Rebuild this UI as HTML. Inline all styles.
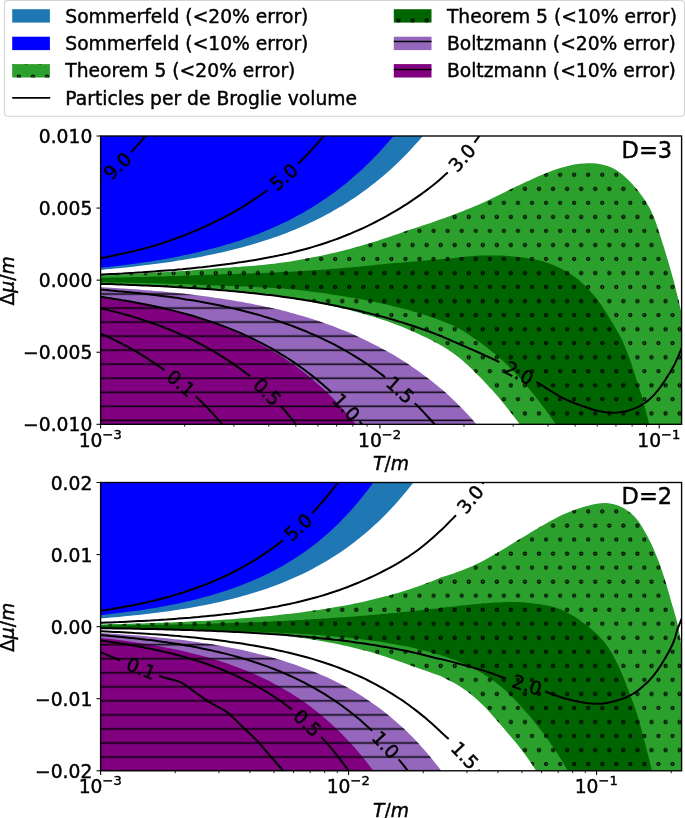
<!DOCTYPE html>
<html><head><meta charset="utf-8"><title>Fermi gas approximation regimes</title>
<style>html,body{margin:0;padding:0;background:#fff}svg{display:block}text{font-family:"DejaVu Sans", "Liberation Sans", sans-serif;fill:#000;stroke:#000;stroke-width:0.42px}</style></head><body>
<svg width="685" height="818" viewBox="0 0 685 818">
<rect width="685" height="818" fill="#fff"/>
<defs>
<pattern id="dots" x="1.388" y="16.970" width="14.056" height="28.060" patternUnits="userSpaceOnUse">
<circle cx="3.5" cy="3.5" r="1.42" fill="none" stroke="#000" stroke-width="1.3"/>
<circle cx="10.528" cy="17.530" r="1.42" fill="none" stroke="#000" stroke-width="1.3"/>
</pattern>
<pattern id="hl" x="0" y="6.410" width="200" height="14.030" patternUnits="userSpaceOnUse">
<rect x="0" y="6.28" width="200" height="1.45" fill="#000"/></pattern>
<clipPath id="clip_u"><rect x="100.60" y="136.00" width="581.00" height="288.30"/></clipPath>
<clipPath id="clip_l"><rect x="100.60" y="482.50" width="581.00" height="288.30"/></clipPath>
</defs>
<g clip-path="url(#clip_u)">
<path d="M98.6 270.0 L102.6 269.7 L106.6 269.3 L110.6 269.0 L114.6 268.6 L118.6 268.2 L122.6 267.8 L126.6 267.4 L130.6 267.0 L134.6 266.5 L138.6 266.1 L142.6 265.6 L146.6 265.1 L150.6 264.6 L154.6 264.1 L158.6 263.6 L162.6 263.0 L166.6 262.5 L170.6 261.9 L174.6 261.3 L178.6 260.6 L182.6 260.0 L186.6 259.3 L190.6 258.6 L194.6 257.9 L198.6 257.2 L202.6 256.4 L206.6 255.6 L210.6 254.8 L214.6 253.9 L218.6 253.1 L222.6 252.2 L226.6 251.2 L230.6 250.3 L234.6 249.3 L238.6 248.3 L242.6 247.2 L246.6 246.1 L250.6 245.0 L254.6 243.8 L258.6 242.6 L262.6 241.3 L266.6 240.0 L270.6 238.7 L274.6 237.3 L278.6 235.9 L282.6 234.4 L286.6 232.9 L290.6 231.3 L294.6 229.7 L298.6 228.0 L302.6 226.3 L306.6 224.5 L310.6 222.6 L314.6 220.7 L318.6 218.7 L322.6 216.7 L326.6 214.6 L330.6 212.4 L334.6 210.1 L338.6 207.8 L342.6 205.4 L346.6 202.9 L350.6 200.3 L354.6 197.7 L358.6 194.9 L362.6 192.1 L366.6 189.2 L370.6 186.1 L374.6 183.0 L378.6 179.8 L382.6 176.4 L386.6 173.0 L390.6 169.4 L394.6 165.7 L398.6 161.9 L402.6 158.0 L406.6 153.9 L410.6 149.7 L414.6 145.3 L418.6 140.9 L422.6 136.2 L426.6 131.4 L430.6 126.5 L434.6 121.4 L434.6 86.0 L98.6 86.0Z" fill="#1f77b4"/>
<path d="M98.6 268.0 L102.6 267.6 L106.6 267.2 L110.6 266.7 L114.6 266.3 L118.6 265.8 L122.6 265.3 L126.6 264.8 L130.6 264.3 L134.6 263.7 L138.6 263.2 L142.6 262.6 L146.6 262.0 L150.6 261.4 L154.6 260.7 L158.6 260.1 L162.6 259.4 L166.6 258.7 L170.6 257.9 L174.6 257.2 L178.6 256.4 L182.6 255.6 L186.6 254.7 L190.6 253.9 L194.6 253.0 L198.6 252.1 L202.6 251.1 L206.6 250.1 L210.6 249.1 L214.6 248.0 L218.6 246.9 L222.6 245.8 L226.6 244.6 L230.6 243.4 L234.6 242.1 L238.6 240.9 L242.6 239.5 L246.6 238.1 L250.6 236.7 L254.6 235.2 L258.6 233.7 L262.6 232.1 L266.6 230.4 L270.6 228.8 L274.6 227.0 L278.6 225.2 L282.6 223.3 L286.6 221.4 L290.6 219.4 L294.6 217.3 L298.6 215.1 L302.6 212.9 L306.6 210.6 L310.6 208.3 L314.6 205.8 L318.6 203.3 L322.6 200.6 L326.6 197.9 L330.6 195.1 L334.6 192.2 L338.6 189.2 L342.6 186.1 L346.6 182.9 L350.6 179.6 L354.6 176.1 L358.6 172.6 L362.6 168.9 L366.6 165.1 L370.6 161.2 L374.6 157.1 L378.6 152.9 L382.6 148.6 L386.6 144.1 L390.6 139.5 L394.6 134.7 L398.6 129.7 L402.6 124.6 L406.6 119.2 L406.6 86.0 L98.6 86.0Z" fill="#0000ff"/>
<path d="M98.6 275.5 L102.6 275.3 L106.6 275.2 L110.6 275.0 L114.6 274.8 L118.6 274.6 L122.6 274.5 L126.6 274.3 L130.6 274.1 L134.6 273.9 L138.6 273.7 L142.6 273.5 L146.6 273.3 L150.6 273.0 L154.6 272.8 L158.6 272.6 L162.6 272.3 L166.6 272.1 L170.6 271.8 L174.6 271.6 L178.6 271.3 L182.6 271.0 L186.6 270.7 L190.6 270.4 L194.6 270.1 L198.6 269.8 L202.6 269.5 L206.6 269.2 L210.6 268.9 L214.6 268.6 L218.6 268.3 L222.6 268.0 L226.6 267.7 L230.6 267.4 L234.6 267.1 L238.6 266.9 L242.6 266.6 L246.6 266.3 L250.6 266.0 L254.6 265.7 L258.6 265.3 L262.6 265.0 L266.6 264.6 L270.6 264.1 L274.6 263.7 L278.6 263.1 L282.6 262.6 L286.6 262.0 L290.6 261.4 L294.6 260.7 L298.6 260.0 L302.6 259.3 L306.6 258.6 L310.6 257.8 L314.6 257.1 L318.6 256.2 L322.6 255.4 L326.6 254.5 L330.6 253.6 L334.6 252.7 L338.6 251.8 L342.6 250.8 L346.6 249.8 L350.6 248.7 L354.6 247.6 L358.6 246.5 L362.6 245.3 L366.6 244.1 L370.6 242.9 L374.6 241.7 L378.6 240.4 L382.6 239.1 L386.6 237.8 L390.6 236.5 L394.6 235.1 L398.6 233.7 L402.6 232.2 L406.6 230.8 L410.6 229.5 L414.6 228.2 L418.6 226.9 L422.6 225.6 L426.6 224.3 L430.6 223.0 L434.6 221.6 L438.6 220.1 L442.6 218.7 L446.6 217.3 L450.6 215.8 L454.6 214.3 L458.6 212.7 L462.6 211.2 L466.6 209.6 L470.6 208.0 L474.6 206.3 L478.6 204.7 L480.0 204.1 L483.6 202.4 L487.2 200.7 L490.8 198.9 L494.4 197.2 L498.0 195.4 L501.6 193.7 L505.2 191.9 L508.8 190.1 L512.4 188.4 L516.0 186.6 L519.6 184.9 L523.2 183.2 L526.8 181.5 L530.5 179.9 L534.1 178.2 L537.8 176.6 L541.5 175.1 L545.2 173.5 L548.9 172.1 L552.7 170.6 L556.4 169.3 L560.2 168.1 L564.1 166.9 L567.9 165.9 L571.8 165.0 L575.8 164.3 L579.7 163.8 L583.7 163.4 L587.8 163.2 L591.8 163.2 L595.9 163.5 L599.9 164.0 L603.9 164.9 L607.7 166.0 L611.5 167.4 L615.0 169.2 L618.4 171.4 L621.6 173.8 L624.6 176.4 L627.6 179.2 L630.4 182.1 L633.1 185.0 L635.7 188.0 L638.3 191.1 L640.7 194.3 L643.1 197.5 L645.4 200.8 L647.5 204.2 L649.5 207.7 L651.3 211.2 L652.9 214.9 L654.4 218.6 L655.8 222.3 L657.1 226.1 L658.4 229.9 L659.6 233.8 L660.8 237.6 L662.0 241.4 L663.2 245.2 L664.4 249.0 L665.6 252.9 L666.7 256.7 L667.9 260.5 L669.0 264.3 L670.1 268.2 L671.2 272.0 L672.3 275.9 L673.4 279.7 L674.4 283.6 L675.4 287.5 L676.3 291.4 L677.3 295.3 L678.2 299.1 L679.2 303.0 L680.1 306.9 L681.0 310.8 L681.9 314.7 L682.8 318.6 L683.7 322.5 L684.6 326.4 L685.0 328.0 L701.6 328.0 L701.6 454.3 L526.0 454.3 L526.0 433.0 L525.0 431.6 L522.7 428.4 L520.3 425.1 L518.0 421.9 L515.6 418.7 L513.1 415.5 L510.7 412.4 L508.2 409.2 L505.7 406.1 L503.2 403.0 L500.6 399.9 L498.1 396.8 L495.4 393.8 L492.8 390.8 L490.1 387.9 L487.4 384.9 L484.6 382.0 L481.9 379.1 L479.1 376.3 L476.2 373.4 L473.4 370.6 L470.5 367.8 L467.6 365.1 L464.7 362.4 L461.7 359.7 L458.6 357.2 L455.4 354.8 L452.1 352.5 L448.8 350.3 L445.4 348.1 L442.0 346.0 L438.6 344.1 L434.6 341.9 L430.6 339.8 L426.6 337.8 L422.6 335.9 L418.6 334.0 L414.6 332.2 L410.6 330.4 L406.6 328.7 L402.6 327.1 L398.6 325.5 L394.6 324.0 L390.6 322.5 L386.6 321.1 L382.6 319.7 L378.6 318.4 L374.6 317.1 L370.6 315.9 L366.6 314.7 L362.6 313.5 L358.6 312.4 L354.6 311.4 L350.6 310.3 L346.6 309.3 L342.6 308.4 L338.6 307.4 L334.6 306.5 L330.6 305.7 L326.6 304.8 L322.6 304.0 L318.6 303.2 L314.6 302.5 L310.6 301.7 L306.6 301.0 L302.6 300.3 L298.6 299.7 L294.6 299.0 L290.6 298.4 L286.6 297.8 L282.6 297.2 L278.6 296.7 L274.6 296.1 L270.6 295.6 L266.6 295.1 L262.6 294.6 L258.6 294.1 L254.6 293.7 L250.6 293.2 L246.6 292.8 L242.6 292.4 L238.6 292.0 L234.6 291.6 L230.6 291.2 L226.6 290.9 L222.6 290.5 L218.6 290.2 L214.6 289.9 L210.6 289.5 L206.6 289.2 L202.6 288.9 L198.6 288.6 L194.6 288.4 L190.6 288.1 L186.6 287.8 L182.6 287.6 L178.6 287.3 L174.6 287.1 L170.6 286.9 L166.6 286.7 L162.6 286.5 L158.6 286.2 L154.6 286.1 L150.6 285.9 L146.6 285.7 L142.6 285.5 L138.6 285.3 L134.6 285.2 L130.6 285.0 L126.6 284.8 L122.6 284.7 L118.6 284.5 L114.6 284.4 L110.6 284.3 L106.6 284.1 L102.6 284.0 L98.6 283.9Z" fill="#2ca02c"/>
<path d="M98.6 275.5 L102.6 275.3 L106.6 275.2 L110.6 275.0 L114.6 274.8 L118.6 274.6 L122.6 274.5 L126.6 274.3 L130.6 274.1 L134.6 273.9 L138.6 273.7 L142.6 273.5 L146.6 273.3 L150.6 273.0 L154.6 272.8 L158.6 272.6 L162.6 272.3 L166.6 272.1 L170.6 271.8 L174.6 271.6 L178.6 271.3 L182.6 271.0 L186.6 270.7 L190.6 270.4 L194.6 270.1 L198.6 269.8 L202.6 269.5 L206.6 269.2 L210.6 268.9 L214.6 268.6 L218.6 268.3 L222.6 268.0 L226.6 267.7 L230.6 267.4 L234.6 267.1 L238.6 266.9 L242.6 266.6 L246.6 266.3 L250.6 266.0 L254.6 265.7 L258.6 265.3 L262.6 265.0 L266.6 264.6 L270.6 264.1 L274.6 263.7 L278.6 263.1 L282.6 262.6 L286.6 262.0 L290.6 261.4 L294.6 260.7 L298.6 260.0 L302.6 259.3 L306.6 258.6 L310.6 257.8 L314.6 257.1 L318.6 256.2 L322.6 255.4 L326.6 254.5 L330.6 253.6 L334.6 252.7 L338.6 251.8 L342.6 250.8 L346.6 249.8 L350.6 248.7 L354.6 247.6 L358.6 246.5 L362.6 245.3 L366.6 244.1 L370.6 242.9 L374.6 241.7 L378.6 240.4 L382.6 239.1 L386.6 237.8 L390.6 236.5 L394.6 235.1 L398.6 233.7 L402.6 232.2 L406.6 230.8 L410.6 229.5 L414.6 228.2 L418.6 226.9 L422.6 225.6 L426.6 224.3 L430.6 223.0 L434.6 221.6 L438.6 220.1 L442.6 218.7 L446.6 217.3 L450.6 215.8 L454.6 214.3 L458.6 212.7 L462.6 211.2 L466.6 209.6 L470.6 208.0 L474.6 206.3 L478.6 204.7 L480.0 204.1 L483.6 202.4 L487.2 200.7 L490.8 198.9 L494.4 197.2 L498.0 195.4 L501.6 193.7 L505.2 191.9 L508.8 190.1 L512.4 188.4 L516.0 186.6 L519.6 184.9 L523.2 183.2 L526.8 181.5 L530.5 179.9 L534.1 178.2 L537.8 176.6 L541.5 175.1 L545.2 173.5 L548.9 172.1 L552.7 170.6 L556.4 169.3 L560.2 168.1 L564.1 166.9 L567.9 165.9 L571.8 165.0 L575.8 164.3 L579.7 163.8 L583.7 163.4 L587.8 163.2 L591.8 163.2 L595.9 163.5 L599.9 164.0 L603.9 164.9 L607.7 166.0 L611.5 167.4 L615.0 169.2 L618.4 171.4 L621.6 173.8 L624.6 176.4 L627.6 179.2 L630.4 182.1 L633.1 185.0 L635.7 188.0 L638.3 191.1 L640.7 194.3 L643.1 197.5 L645.4 200.8 L647.5 204.2 L649.5 207.7 L651.3 211.2 L652.9 214.9 L654.4 218.6 L655.8 222.3 L657.1 226.1 L658.4 229.9 L659.6 233.8 L660.8 237.6 L662.0 241.4 L663.2 245.2 L664.4 249.0 L665.6 252.9 L666.7 256.7 L667.9 260.5 L669.0 264.3 L670.1 268.2 L671.2 272.0 L672.3 275.9 L673.4 279.7 L674.4 283.6 L675.4 287.5 L676.3 291.4 L677.3 295.3 L678.2 299.1 L679.2 303.0 L680.1 306.9 L681.0 310.8 L681.9 314.7 L682.8 318.6 L683.7 322.5 L684.6 326.4 L685.0 328.0 L701.6 328.0 L701.6 454.3 L526.0 454.3 L526.0 433.0 L525.0 431.6 L522.7 428.4 L520.3 425.1 L518.0 421.9 L515.6 418.7 L513.1 415.5 L510.7 412.4 L508.2 409.2 L505.7 406.1 L503.2 403.0 L500.6 399.9 L498.1 396.8 L495.4 393.8 L492.8 390.8 L490.1 387.9 L487.4 384.9 L484.6 382.0 L481.9 379.1 L479.1 376.3 L476.2 373.4 L473.4 370.6 L470.5 367.8 L467.6 365.1 L464.7 362.4 L461.7 359.7 L458.6 357.2 L455.4 354.8 L452.1 352.5 L448.8 350.3 L445.4 348.1 L442.0 346.0 L438.6 344.1 L434.6 341.9 L430.6 339.8 L426.6 337.8 L422.6 335.9 L418.6 334.0 L414.6 332.2 L410.6 330.4 L406.6 328.7 L402.6 327.1 L398.6 325.5 L394.6 324.0 L390.6 322.5 L386.6 321.1 L382.6 319.7 L378.6 318.4 L374.6 317.1 L370.6 315.9 L366.6 314.7 L362.6 313.5 L358.6 312.4 L354.6 311.4 L350.6 310.3 L346.6 309.3 L342.6 308.4 L338.6 307.4 L334.6 306.5 L330.6 305.7 L326.6 304.8 L322.6 304.0 L318.6 303.2 L314.6 302.5 L310.6 301.7 L306.6 301.0 L302.6 300.3 L298.6 299.7 L294.6 299.0 L290.6 298.4 L286.6 297.8 L282.6 297.2 L278.6 296.7 L274.6 296.1 L270.6 295.6 L266.6 295.1 L262.6 294.6 L258.6 294.1 L254.6 293.7 L250.6 293.2 L246.6 292.8 L242.6 292.4 L238.6 292.0 L234.6 291.6 L230.6 291.2 L226.6 290.9 L222.6 290.5 L218.6 290.2 L214.6 289.9 L210.6 289.5 L206.6 289.2 L202.6 288.9 L198.6 288.6 L194.6 288.4 L190.6 288.1 L186.6 287.8 L182.6 287.6 L178.6 287.3 L174.6 287.1 L170.6 286.9 L166.6 286.7 L162.6 286.5 L158.6 286.2 L154.6 286.1 L150.6 285.9 L146.6 285.7 L142.6 285.5 L138.6 285.3 L134.6 285.2 L130.6 285.0 L126.6 284.8 L122.6 284.7 L118.6 284.5 L114.6 284.4 L110.6 284.3 L106.6 284.1 L102.6 284.0 L98.6 283.9Z" fill="url(#dots)"/>
<path d="M98.6 277.9 L102.6 277.8 L106.6 277.7 L110.6 277.6 L114.6 277.6 L118.6 277.5 L122.6 277.4 L126.6 277.3 L130.6 277.2 L134.6 277.1 L138.6 277.0 L142.6 276.9 L146.6 276.8 L150.6 276.7 L154.6 276.6 L158.6 276.5 L162.6 276.4 L166.6 276.2 L170.6 276.1 L174.6 276.0 L178.6 275.9 L182.6 275.7 L186.6 275.6 L190.6 275.4 L194.6 275.3 L198.6 275.1 L202.6 275.0 L206.6 274.8 L210.6 274.7 L214.6 274.5 L218.6 274.4 L222.6 274.3 L226.6 274.1 L230.6 274.0 L234.6 273.9 L238.6 273.8 L242.6 273.6 L246.6 273.5 L250.6 273.4 L254.6 273.2 L258.6 273.1 L262.6 273.0 L266.6 272.8 L270.6 272.7 L274.6 272.5 L278.6 272.3 L282.6 272.1 L286.6 271.9 L290.6 271.7 L294.6 271.5 L298.6 271.2 L302.6 271.0 L306.6 270.7 L310.6 270.5 L314.6 270.2 L318.6 269.9 L322.6 269.7 L326.6 269.4 L330.6 269.1 L334.6 268.8 L338.6 268.4 L342.6 268.1 L346.6 267.8 L350.6 267.4 L354.6 267.0 L358.6 266.7 L362.6 266.3 L366.6 265.9 L370.6 265.4 L374.6 265.0 L378.6 264.6 L382.6 264.2 L386.6 263.8 L390.6 263.5 L394.6 263.1 L398.6 262.8 L402.6 262.4 L406.6 262.1 L410.6 261.8 L414.6 261.5 L418.6 261.1 L422.6 260.8 L426.6 260.4 L430.6 260.1 L434.6 259.7 L438.6 259.4 L442.6 259.0 L446.6 258.7 L450.6 258.4 L452.4 258.2 L456.4 257.7 L460.4 257.3 L464.3 256.8 L468.3 256.4 L472.3 256.1 L476.3 255.8 L480.3 255.6 L484.3 255.5 L488.3 255.4 L492.3 255.4 L496.3 255.5 L500.3 255.6 L504.3 255.8 L508.3 256.1 L512.2 256.4 L516.2 256.7 L520.2 257.2 L524.2 257.6 L528.2 258.2 L532.1 258.9 L536.0 259.7 L539.9 260.6 L543.8 261.6 L547.6 262.9 L551.4 264.3 L555.1 265.8 L558.7 267.5 L562.3 269.3 L565.8 271.2 L569.2 273.3 L572.6 275.5 L575.8 277.8 L579.0 280.3 L582.0 282.9 L584.9 285.6 L587.8 288.5 L590.5 291.4 L593.1 294.4 L595.7 297.5 L598.1 300.7 L600.4 303.9 L602.7 307.2 L604.8 310.6 L607.0 314.0 L609.0 317.4 L611.1 320.8 L613.2 324.3 L615.3 327.7 L617.3 331.1 L619.2 334.6 L621.1 338.2 L622.8 341.8 L624.4 345.4 L626.0 349.1 L627.4 352.9 L628.8 356.6 L630.2 360.4 L631.5 364.2 L632.7 368.0 L634.0 371.8 L635.2 375.6 L636.4 379.4 L637.7 383.2 L638.9 387.0 L640.1 390.8 L641.3 394.6 L642.4 398.5 L643.5 402.3 L644.6 406.2 L645.6 410.0 L646.6 413.9 L647.6 417.8 L648.6 421.7 L649.6 425.5 L650.7 429.4 L651.8 433.2 L652.0 434.0 L652.0 454.3 L562.0 454.3 L562.0 433.5 L560.3 431.0 L558.0 427.7 L555.8 424.4 L553.5 421.1 L551.2 417.8 L548.9 414.6 L546.6 411.3 L544.2 408.1 L541.8 404.9 L539.4 401.7 L536.9 398.6 L534.5 395.4 L531.9 392.3 L529.4 389.2 L526.8 386.2 L524.2 383.1 L521.6 380.1 L518.9 377.1 L516.2 374.2 L513.5 371.3 L510.7 368.4 L507.8 365.6 L505.0 362.8 L502.0 360.1 L499.0 357.4 L496.0 354.8 L492.9 352.3 L489.8 349.8 L486.6 347.3 L483.4 344.9 L480.2 342.6 L476.9 340.3 L473.6 337.9 L470.3 335.7 L467.0 333.4 L463.6 331.3 L460.2 329.3 L456.7 327.4 L453.1 325.6 L449.4 324.0 L445.7 322.5 L442.0 321.0 L438.6 319.8 L434.6 318.3 L430.6 317.0 L426.6 315.6 L422.6 314.3 L418.6 313.1 L414.6 311.9 L410.6 310.7 L406.6 309.6 L402.6 308.5 L398.6 307.5 L394.6 306.5 L390.6 305.5 L386.6 304.6 L382.6 303.7 L378.6 302.8 L374.6 301.9 L370.6 301.1 L366.6 300.3 L362.6 299.6 L358.6 298.8 L354.6 298.1 L350.6 297.4 L346.6 296.8 L342.6 296.1 L338.6 295.5 L334.6 294.9 L330.6 294.3 L326.6 293.6 L322.6 293.1 L318.6 292.5 L314.6 291.9 L310.6 291.4 L306.6 290.9 L302.6 290.4 L298.6 290.0 L294.6 289.6 L290.6 289.2 L286.6 288.9 L282.6 288.6 L278.6 288.3 L274.6 288.0 L270.6 287.8 L266.6 287.6 L262.6 287.4 L258.6 287.2 L254.6 287.0 L250.6 286.8 L246.6 286.6 L242.6 286.4 L238.6 286.3 L234.6 286.1 L230.6 286.0 L226.6 285.8 L222.6 285.7 L218.6 285.5 L214.6 285.4 L210.6 285.2 L206.6 285.0 L202.6 284.9 L198.6 284.7 L194.6 284.6 L190.6 284.4 L186.6 284.3 L182.6 284.2 L178.6 284.0 L174.6 283.9 L170.6 283.8 L166.6 283.7 L162.6 283.6 L158.6 283.4 L154.6 283.3 L150.6 283.2 L146.6 283.1 L142.6 283.0 L138.6 282.9 L134.6 282.8 L130.6 282.8 L126.6 282.7 L122.6 282.6 L118.6 282.5 L114.6 282.4 L110.6 282.4 L106.6 282.3 L102.6 282.2 L98.6 282.1Z" fill="#006400"/>
<path d="M98.6 277.9 L102.6 277.8 L106.6 277.7 L110.6 277.6 L114.6 277.6 L118.6 277.5 L122.6 277.4 L126.6 277.3 L130.6 277.2 L134.6 277.1 L138.6 277.0 L142.6 276.9 L146.6 276.8 L150.6 276.7 L154.6 276.6 L158.6 276.5 L162.6 276.4 L166.6 276.2 L170.6 276.1 L174.6 276.0 L178.6 275.9 L182.6 275.7 L186.6 275.6 L190.6 275.4 L194.6 275.3 L198.6 275.1 L202.6 275.0 L206.6 274.8 L210.6 274.7 L214.6 274.5 L218.6 274.4 L222.6 274.3 L226.6 274.1 L230.6 274.0 L234.6 273.9 L238.6 273.8 L242.6 273.6 L246.6 273.5 L250.6 273.4 L254.6 273.2 L258.6 273.1 L262.6 273.0 L266.6 272.8 L270.6 272.7 L274.6 272.5 L278.6 272.3 L282.6 272.1 L286.6 271.9 L290.6 271.7 L294.6 271.5 L298.6 271.2 L302.6 271.0 L306.6 270.7 L310.6 270.5 L314.6 270.2 L318.6 269.9 L322.6 269.7 L326.6 269.4 L330.6 269.1 L334.6 268.8 L338.6 268.4 L342.6 268.1 L346.6 267.8 L350.6 267.4 L354.6 267.0 L358.6 266.7 L362.6 266.3 L366.6 265.9 L370.6 265.4 L374.6 265.0 L378.6 264.6 L382.6 264.2 L386.6 263.8 L390.6 263.5 L394.6 263.1 L398.6 262.8 L402.6 262.4 L406.6 262.1 L410.6 261.8 L414.6 261.5 L418.6 261.1 L422.6 260.8 L426.6 260.4 L430.6 260.1 L434.6 259.7 L438.6 259.4 L442.6 259.0 L446.6 258.7 L450.6 258.4 L452.4 258.2 L456.4 257.7 L460.4 257.3 L464.3 256.8 L468.3 256.4 L472.3 256.1 L476.3 255.8 L480.3 255.6 L484.3 255.5 L488.3 255.4 L492.3 255.4 L496.3 255.5 L500.3 255.6 L504.3 255.8 L508.3 256.1 L512.2 256.4 L516.2 256.7 L520.2 257.2 L524.2 257.6 L528.2 258.2 L532.1 258.9 L536.0 259.7 L539.9 260.6 L543.8 261.6 L547.6 262.9 L551.4 264.3 L555.1 265.8 L558.7 267.5 L562.3 269.3 L565.8 271.2 L569.2 273.3 L572.6 275.5 L575.8 277.8 L579.0 280.3 L582.0 282.9 L584.9 285.6 L587.8 288.5 L590.5 291.4 L593.1 294.4 L595.7 297.5 L598.1 300.7 L600.4 303.9 L602.7 307.2 L604.8 310.6 L607.0 314.0 L609.0 317.4 L611.1 320.8 L613.2 324.3 L615.3 327.7 L617.3 331.1 L619.2 334.6 L621.1 338.2 L622.8 341.8 L624.4 345.4 L626.0 349.1 L627.4 352.9 L628.8 356.6 L630.2 360.4 L631.5 364.2 L632.7 368.0 L634.0 371.8 L635.2 375.6 L636.4 379.4 L637.7 383.2 L638.9 387.0 L640.1 390.8 L641.3 394.6 L642.4 398.5 L643.5 402.3 L644.6 406.2 L645.6 410.0 L646.6 413.9 L647.6 417.8 L648.6 421.7 L649.6 425.5 L650.7 429.4 L651.8 433.2 L652.0 434.0 L652.0 454.3 L562.0 454.3 L562.0 433.5 L560.3 431.0 L558.0 427.7 L555.8 424.4 L553.5 421.1 L551.2 417.8 L548.9 414.6 L546.6 411.3 L544.2 408.1 L541.8 404.9 L539.4 401.7 L536.9 398.6 L534.5 395.4 L531.9 392.3 L529.4 389.2 L526.8 386.2 L524.2 383.1 L521.6 380.1 L518.9 377.1 L516.2 374.2 L513.5 371.3 L510.7 368.4 L507.8 365.6 L505.0 362.8 L502.0 360.1 L499.0 357.4 L496.0 354.8 L492.9 352.3 L489.8 349.8 L486.6 347.3 L483.4 344.9 L480.2 342.6 L476.9 340.3 L473.6 337.9 L470.3 335.7 L467.0 333.4 L463.6 331.3 L460.2 329.3 L456.7 327.4 L453.1 325.6 L449.4 324.0 L445.7 322.5 L442.0 321.0 L438.6 319.8 L434.6 318.3 L430.6 317.0 L426.6 315.6 L422.6 314.3 L418.6 313.1 L414.6 311.9 L410.6 310.7 L406.6 309.6 L402.6 308.5 L398.6 307.5 L394.6 306.5 L390.6 305.5 L386.6 304.6 L382.6 303.7 L378.6 302.8 L374.6 301.9 L370.6 301.1 L366.6 300.3 L362.6 299.6 L358.6 298.8 L354.6 298.1 L350.6 297.4 L346.6 296.8 L342.6 296.1 L338.6 295.5 L334.6 294.9 L330.6 294.3 L326.6 293.6 L322.6 293.1 L318.6 292.5 L314.6 291.9 L310.6 291.4 L306.6 290.9 L302.6 290.4 L298.6 290.0 L294.6 289.6 L290.6 289.2 L286.6 288.9 L282.6 288.6 L278.6 288.3 L274.6 288.0 L270.6 287.8 L266.6 287.6 L262.6 287.4 L258.6 287.2 L254.6 287.0 L250.6 286.8 L246.6 286.6 L242.6 286.4 L238.6 286.3 L234.6 286.1 L230.6 286.0 L226.6 285.8 L222.6 285.7 L218.6 285.5 L214.6 285.4 L210.6 285.2 L206.6 285.0 L202.6 284.9 L198.6 284.7 L194.6 284.6 L190.6 284.4 L186.6 284.3 L182.6 284.2 L178.6 284.0 L174.6 283.9 L170.6 283.8 L166.6 283.7 L162.6 283.6 L158.6 283.4 L154.6 283.3 L150.6 283.2 L146.6 283.1 L142.6 283.0 L138.6 282.9 L134.6 282.8 L130.6 282.8 L126.6 282.7 L122.6 282.6 L118.6 282.5 L114.6 282.4 L110.6 282.4 L106.6 282.3 L102.6 282.2 L98.6 282.1Z" fill="url(#dots)"/>
<path d="M98.6 287.0 L102.6 287.2 L106.6 287.4 L110.6 287.7 L114.6 287.9 L118.6 288.2 L122.6 288.4 L126.6 288.7 L130.6 289.0 L134.6 289.3 L138.6 289.6 L142.6 289.9 L146.6 290.2 L150.6 290.5 L154.6 290.9 L158.6 291.2 L162.6 291.6 L166.6 292.0 L170.6 292.4 L174.6 292.8 L178.6 293.2 L182.6 293.6 L186.6 294.1 L190.6 294.5 L194.6 295.0 L198.6 295.5 L202.6 296.0 L206.6 296.5 L210.6 297.1 L214.6 297.7 L218.6 298.2 L222.6 298.8 L226.6 299.5 L230.6 300.1 L234.6 300.8 L238.6 301.4 L242.6 302.1 L246.6 302.9 L250.6 303.6 L254.6 304.4 L258.6 305.2 L262.6 306.0 L266.6 306.9 L270.6 307.8 L274.6 308.7 L278.6 309.6 L282.6 310.6 L286.6 311.6 L290.6 312.7 L294.6 313.8 L298.6 314.9 L302.6 316.1 L306.6 317.2 L310.6 318.5 L314.6 319.8 L318.6 321.1 L322.6 322.4 L326.6 323.9 L330.6 325.3 L334.6 326.8 L338.6 328.4 L342.6 330.0 L346.6 331.6 L350.6 333.3 L354.6 335.1 L358.6 336.9 L362.6 338.8 L366.6 340.7 L370.6 342.7 L374.6 344.7 L378.6 346.8 L382.6 348.9 L386.6 351.1 L390.6 353.3 L394.6 355.6 L398.6 358.0 L402.6 360.4 L406.6 363.0 L410.6 365.7 L414.6 368.4 L418.6 371.3 L422.6 374.2 L426.6 377.2 L430.6 380.3 L434.6 383.5 L438.6 386.7 L442.6 390.1 L446.6 393.6 L450.6 397.2 L454.6 401.0 L458.6 404.9 L462.6 409.0 L466.6 413.2 L470.6 417.6 L474.6 422.2 L478.6 426.9 L482.6 431.7 L486.6 436.7 L486.6 474.3 L98.6 474.3Z" fill="#9467bd"/>
<path d="M98.6 287.0 L102.6 287.2 L106.6 287.4 L110.6 287.7 L114.6 287.9 L118.6 288.2 L122.6 288.4 L126.6 288.7 L130.6 289.0 L134.6 289.3 L138.6 289.6 L142.6 289.9 L146.6 290.2 L150.6 290.5 L154.6 290.9 L158.6 291.2 L162.6 291.6 L166.6 292.0 L170.6 292.4 L174.6 292.8 L178.6 293.2 L182.6 293.6 L186.6 294.1 L190.6 294.5 L194.6 295.0 L198.6 295.5 L202.6 296.0 L206.6 296.5 L210.6 297.1 L214.6 297.7 L218.6 298.2 L222.6 298.8 L226.6 299.5 L230.6 300.1 L234.6 300.8 L238.6 301.4 L242.6 302.1 L246.6 302.9 L250.6 303.6 L254.6 304.4 L258.6 305.2 L262.6 306.0 L266.6 306.9 L270.6 307.8 L274.6 308.7 L278.6 309.6 L282.6 310.6 L286.6 311.6 L290.6 312.7 L294.6 313.8 L298.6 314.9 L302.6 316.1 L306.6 317.2 L310.6 318.5 L314.6 319.8 L318.6 321.1 L322.6 322.4 L326.6 323.9 L330.6 325.3 L334.6 326.8 L338.6 328.4 L342.6 330.0 L346.6 331.6 L350.6 333.3 L354.6 335.1 L358.6 336.9 L362.6 338.8 L366.6 340.7 L370.6 342.7 L374.6 344.7 L378.6 346.8 L382.6 348.9 L386.6 351.1 L390.6 353.3 L394.6 355.6 L398.6 358.0 L402.6 360.4 L406.6 363.0 L410.6 365.7 L414.6 368.4 L418.6 371.3 L422.6 374.2 L426.6 377.2 L430.6 380.3 L434.6 383.5 L438.6 386.7 L442.6 390.1 L446.6 393.6 L450.6 397.2 L454.6 401.0 L458.6 404.9 L462.6 409.0 L466.6 413.2 L470.6 417.6 L474.6 422.2 L478.6 426.9 L482.6 431.7 L486.6 436.7 L486.6 474.3 L98.6 474.3Z" fill="url(#hl)"/>
<path d="M98.6 296.8 L102.6 297.4 L106.6 297.9 L110.6 298.5 L114.6 299.2 L118.6 299.8 L122.6 300.5 L126.6 301.1 L130.6 301.8 L134.6 302.6 L138.6 303.3 L142.6 304.1 L146.6 304.9 L150.6 305.8 L154.6 306.6 L158.6 307.5 L162.6 308.4 L166.6 309.4 L170.6 310.4 L174.6 311.4 L178.6 312.5 L182.6 313.5 L186.6 314.7 L190.6 315.8 L194.6 317.0 L198.6 318.3 L202.6 319.6 L206.6 320.9 L210.6 322.3 L214.6 323.7 L218.6 325.2 L222.6 326.7 L226.6 328.3 L230.6 330.0 L234.6 331.6 L238.6 333.4 L242.6 335.2 L246.6 337.1 L250.6 339.0 L254.6 341.0 L258.6 343.1 L262.6 345.2 L266.6 347.4 L270.6 349.7 L274.6 352.1 L278.6 354.5 L282.6 357.1 L286.6 359.7 L290.6 362.5 L294.6 365.3 L298.6 368.2 L302.6 371.3 L306.6 374.5 L310.6 377.8 L314.6 381.2 L318.6 384.7 L322.6 388.3 L326.6 392.1 L330.6 396.1 L334.6 400.1 L338.6 404.3 L342.6 408.7 L346.6 413.2 L350.6 417.9 L354.6 422.7 L358.6 427.7 L362.6 432.8 L366.6 438.1 L366.6 474.3 L98.6 474.3Z" fill="#800080"/>
<path d="M98.6 296.8 L102.6 297.4 L106.6 297.9 L110.6 298.5 L114.6 299.2 L118.6 299.8 L122.6 300.5 L126.6 301.1 L130.6 301.8 L134.6 302.6 L138.6 303.3 L142.6 304.1 L146.6 304.9 L150.6 305.8 L154.6 306.6 L158.6 307.5 L162.6 308.4 L166.6 309.4 L170.6 310.4 L174.6 311.4 L178.6 312.5 L182.6 313.5 L186.6 314.7 L190.6 315.8 L194.6 317.0 L198.6 318.3 L202.6 319.6 L206.6 320.9 L210.6 322.3 L214.6 323.7 L218.6 325.2 L222.6 326.7 L226.6 328.3 L230.6 330.0 L234.6 331.6 L238.6 333.4 L242.6 335.2 L246.6 337.1 L250.6 339.0 L254.6 341.0 L258.6 343.1 L262.6 345.2 L266.6 347.4 L270.6 349.7 L274.6 352.1 L278.6 354.5 L282.6 357.1 L286.6 359.7 L290.6 362.5 L294.6 365.3 L298.6 368.2 L302.6 371.3 L306.6 374.5 L310.6 377.8 L314.6 381.2 L318.6 384.7 L322.6 388.3 L326.6 392.1 L330.6 396.1 L334.6 400.1 L338.6 404.3 L342.6 408.7 L346.6 413.2 L350.6 417.9 L354.6 422.7 L358.6 427.7 L362.6 432.8 L366.6 438.1 L366.6 474.3 L98.6 474.3Z" fill="url(#hl)"/>
<path d="M98.6 182.3 L101.7 179.8" fill="none" stroke="#000" stroke-width="2.0" stroke-linejoin="round"/>
<path d="M131.2 152.1 L134.0 149.2 L136.7 146.2 L139.3 143.3 L142.0 140.2 L144.6 137.2 L147.1 134.1 L149.7 131.1 L152.2 127.9 L154.7 124.8 L157.1 121.6" fill="none" stroke="#000" stroke-width="2.0" stroke-linejoin="round"/>
<text transform="translate(117.4 165.9) rotate(-43.3)" font-size="18.72" text-anchor="middle" y="6.83" style="stroke-width:0.5px">9.0</text>
<path d="M98.6 258.5 L102.5 257.7 L106.5 257.0 L110.4 256.2 L114.3 255.4 L118.2 254.6 L122.1 253.8 L126.0 252.9 L129.9 252.0 L133.8 251.1 L137.7 250.1 L141.6 249.2 L145.5 248.1 L149.3 247.1 L153.2 246.0 L157.0 244.9 L160.8 243.7 L164.6 242.4 L168.4 241.1 L172.2 239.8 L175.9 238.4 L179.7 237.0 L183.4 235.6 L187.1 234.1 L190.8 232.6 L194.5 231.1 L198.2 229.5 L201.9 227.9 L205.5 226.3 L209.2 224.6 L212.8 222.9 L216.4 221.2 L220.0 219.4 L223.5 217.6 L227.1 215.7 L230.6 213.8 L234.1 211.8 L237.5 209.8 L241.0 207.8 L244.4 205.7 L247.8 203.6 L251.2 201.4 L254.5 199.2 L257.8 197.0 L261.1 194.7 L264.3 192.3 L267.5 190.0" fill="none" stroke="#000" stroke-width="2.0" stroke-linejoin="round"/>
<path d="M298.2 163.6 L301.1 160.8 L303.9 158.0 L306.7 155.1 L309.4 152.2 L312.1 149.2 L314.8 146.3 L317.5 143.3 L320.1 140.2 L322.7 137.2 L325.2 134.1 L327.7 131.0 L330.2 127.9 L332.7 124.7" fill="none" stroke="#000" stroke-width="2.0" stroke-linejoin="round"/>
<text transform="translate(283.9 176.8) rotate(-40.8)" font-size="18.72" text-anchor="middle" y="6.83" style="stroke-width:0.5px">5.0</text>
<path d="M98.6 274.7 L102.6 274.5 L106.6 274.3 L110.6 274.1 L114.6 273.9 L118.6 273.7 L122.6 273.5 L126.6 273.2 L130.6 273.0 L134.5 272.8 L138.5 272.5 L142.5 272.3 L146.5 272.0 L150.5 271.7 L154.5 271.4 L158.5 271.1 L162.5 270.8 L166.5 270.5 L170.5 270.2 L174.4 269.9 L178.4 269.5 L182.4 269.2 L186.4 268.8 L190.4 268.4 L194.4 268.0 L198.3 267.6 L202.3 267.2 L206.3 266.7 L210.3 266.3 L214.2 265.8 L218.2 265.3 L222.2 264.8 L226.1 264.3 L230.1 263.8 L234.1 263.2 L238.0 262.6 L242.0 262.1 L245.9 261.4 L249.9 260.8 L253.8 260.2 L257.8 259.5 L261.7 258.8 L265.6 258.1 L269.6 257.3 L273.5 256.6 L277.4 255.8 L281.3 254.9 L285.2 254.1 L289.1 253.2 L293.0 252.3 L296.9 251.3 L300.8 250.3 L304.7 249.3 L308.5 248.2 L312.3 247.1 L316.2 245.9 L320.0 244.7 L323.8 243.5 L327.6 242.2 L331.4 240.9 L335.1 239.6 L338.9 238.2 L342.6 236.8 L346.4 235.3 L350.1 233.8 L353.7 232.2 L357.4 230.6 L361.1 229.0 L364.7 227.3 L368.3 225.6 L371.9 223.8 L375.5 222.0 L379.0 220.2 L382.5 218.3 L386.1 216.4 L389.5 214.4 L393.0 212.4 L396.5 210.4 L399.9 208.3 L403.3 206.2 L406.7 204.1 L410.0 201.9 L413.3 199.7 L416.6 197.4 L419.9 195.1 L423.1 192.8 L426.4 190.4 L429.5 188.0 L432.7 185.5 L435.8 183.0 L438.8 180.4 L441.9 177.8 L444.8 175.1 L447.8 172.4" fill="none" stroke="#000" stroke-width="2.0" stroke-linejoin="round"/>
<path d="M474.4 142.6 L476.8 139.4 L479.2 136.2 L481.6 133.0 L483.9 129.7 L486.3 126.5 L488.6 123.2" fill="none" stroke="#000" stroke-width="2.0" stroke-linejoin="round"/>
<text transform="translate(462.0 157.6) rotate(-48.6)" font-size="18.72" text-anchor="middle" y="6.83" style="stroke-width:0.5px">3.0</text>
<path d="M98.6 283.8 L102.6 283.9 L106.6 284.0 L110.6 284.1 L114.6 284.3 L118.6 284.4 L122.6 284.6 L126.6 284.7 L130.6 284.9 L134.6 285.0 L138.6 285.2 L142.6 285.4 L146.6 285.5 L150.6 285.7 L154.6 285.9 L158.6 286.1 L162.5 286.3 L166.5 286.5 L170.5 286.7 L174.5 287.0 L178.5 287.2 L182.5 287.4 L186.5 287.7 L190.5 287.9 L194.5 288.2 L198.5 288.4 L202.5 288.7 L206.5 289.0 L210.5 289.3 L214.4 289.6 L218.4 289.9 L222.4 290.3 L226.4 290.6 L230.4 291.0 L234.4 291.3 L238.4 291.7 L242.3 292.1 L246.3 292.5 L250.3 292.9 L254.3 293.3 L258.2 293.7 L262.2 294.2 L266.2 294.7 L270.2 295.1 L274.1 295.6 L278.1 296.1 L282.1 296.7 L286.0 297.2 L290.0 297.8 L293.9 298.3 L297.9 298.9 L301.9 299.6 L305.8 300.2 L309.8 300.8 L313.7 301.5 L317.6 302.2 L321.6 302.9 L325.5 303.7 L329.4 304.4 L333.3 305.2 L337.3 306.0 L341.2 306.9 L345.1 307.7 L349.0 308.6 L352.9 309.4 L356.8 310.3 L360.7 311.2 L364.6 312.2 L368.5 313.1 L372.3 314.1 L376.2 315.1 L380.1 316.1 L384.0 317.1 L387.8 318.2 L391.6 319.3 L395.5 320.5 L399.3 321.6 L403.1 322.8 L407.0 324.0 L410.8 325.2 L414.6 326.5 L418.3 327.8 L422.1 329.1 L425.9 330.4 L429.7 331.8 L433.4 333.1 L437.2 334.6 L440.9 336.0 L444.5 337.6 L448.2 339.2 L451.9 340.8 L455.5 342.4 L459.2 344.0 L462.9 345.6 L466.5 347.2 L470.2 348.8 L473.9 350.4 L477.5 352.0 L481.2 353.6 L484.8 355.3 L488.5 357.0 L492.1 358.7 L495.7 360.4 L499.3 362.2" fill="none" stroke="#000" stroke-width="2.0" stroke-linejoin="round"/>
<path d="M536.3 382.0 L539.8 384.0 L543.2 386.1 L546.5 388.3 L549.9 390.4 L553.3 392.5 L556.8 394.6 L560.2 396.6 L563.8 398.4 L567.4 400.1 L571.0 401.7 L574.8 403.2 L578.5 404.6 L582.3 406.0 L586.1 407.3 L589.9 408.5 L593.7 409.7 L597.5 410.7 L601.5 411.6 L605.4 412.2 L609.4 412.6 L613.4 412.7 L617.4 412.5 L621.3 412.1 L625.3 411.4 L629.2 410.4 L632.9 409.1 L636.6 407.6 L640.2 405.8 L643.6 403.7 L646.9 401.4 L650.0 398.8 L652.9 396.1 L655.6 393.1 L658.1 390.1 L660.5 386.9 L662.8 383.6 L665.1 380.3 L667.2 376.9 L669.4 373.5 L671.4 370.1 L673.4 366.6 L675.2 363.1 L676.9 359.4 L678.5 355.8 L680.0 352.1 L681.6 348.4 L683.1 344.7" fill="none" stroke="#000" stroke-width="2.0" stroke-linejoin="round"/>
<text transform="translate(519.1 372.8) rotate(27.8)" font-size="18.72" text-anchor="middle" y="6.83" style="stroke-width:0.5px">2.0</text>
<path d="M98.6 289.5 L102.6 289.8 L106.6 290.1 L110.6 290.5 L114.5 290.8 L118.5 291.2 L122.5 291.5 L126.5 291.9 L130.5 292.3 L134.5 292.7 L138.4 293.1 L142.4 293.6 L146.4 294.0 L150.4 294.5 L154.3 295.0 L158.3 295.4 L162.3 296.0 L166.2 296.5 L170.2 297.0 L174.2 297.6 L178.1 298.1 L182.1 298.7 L186.0 299.4 L190.0 300.0 L193.9 300.6 L197.9 301.3 L201.8 302.0 L205.7 302.7 L209.7 303.5 L213.6 304.2 L217.5 305.0 L221.4 305.8 L225.3 306.7 L229.3 307.5 L233.2 308.4 L237.0 309.3 L240.9 310.3 L244.8 311.3 L248.7 312.3 L252.5 313.3 L256.4 314.3 L260.3 315.4 L264.1 316.6 L267.9 317.7 L271.7 318.9 L275.5 320.1 L279.3 321.4 L283.1 322.7 L286.9 324.0 L290.7 325.4 L294.4 326.8 L298.1 328.2 L301.9 329.7 L305.6 331.2 L309.2 332.8 L312.9 334.4 L316.6 336.0 L320.2 337.7 L323.8 339.4 L327.4 341.1 L331.0 342.9 L334.6 344.7 L338.1 346.6 L341.6 348.5 L345.1 350.5 L348.6 352.5 L352.0 354.5 L355.4 356.6 L358.8 358.7 L362.2 360.8 L365.5 363.0 L368.8 365.3 L372.1 367.6 L375.4 369.9 L378.6 372.2 L381.8 374.6 L385.0 377.1" fill="none" stroke="#000" stroke-width="2.0" stroke-linejoin="round"/>
<path d="M414.7 403.1 L417.5 405.9 L420.3 408.8 L423.1 411.6 L425.8 414.6 L428.5 417.5 L431.2 420.5 L433.9 423.5 L436.5 426.5 L439.1 429.6 L441.6 432.7 L444.1 435.8 L446.6 438.9" fill="none" stroke="#000" stroke-width="2.0" stroke-linejoin="round"/>
<text transform="translate(400.4 389.8) rotate(41.3)" font-size="18.72" text-anchor="middle" y="6.83" style="stroke-width:0.5px">1.5</text>
<path d="M98.6 296.6 L102.6 297.1 L106.5 297.7 L110.5 298.3 L114.4 298.9 L118.4 299.5 L122.3 300.2 L126.3 300.8 L130.2 301.5 L134.2 302.2 L138.1 302.9 L142.0 303.7 L145.9 304.4 L149.9 305.2 L153.8 306.1 L157.7 306.9 L161.6 307.8 L165.5 308.7 L169.4 309.6 L173.3 310.6 L177.1 311.6 L181.0 312.6 L184.9 313.6 L188.7 314.7 L192.6 315.8 L196.4 317.0 L200.2 318.2 L204.0 319.4 L207.8 320.6 L211.6 321.9 L215.4 323.2 L219.2 324.6 L222.9 326.0 L226.6 327.4 L230.4 328.9 L234.1 330.4 L237.8 331.9 L241.4 333.5 L245.1 335.2 L248.7 336.8 L252.3 338.5 L255.9 340.3 L259.5 342.1 L263.0 343.9 L266.6 345.8 L270.1 347.7 L273.6 349.7 L277.0 351.7 L280.4 353.8 L283.9 355.9 L287.2 358.0 L290.6 360.2 L293.9 362.4 L297.2 364.7 L300.5 367.0 L303.7 369.3 L306.9 371.7 L310.1 374.1 L313.2 376.6 L316.4 379.1 L319.4 381.7 L322.5 384.3 L325.5 386.9 L328.5 389.5 L331.5 392.2" fill="none" stroke="#000" stroke-width="2.0" stroke-linejoin="round"/>
<path d="M359.5 421.4 L362.1 424.4 L364.7 427.5 L367.2 430.6 L369.7 433.8 L372.2 436.9" fill="none" stroke="#000" stroke-width="2.0" stroke-linejoin="round"/>
<text transform="translate(346.4 407.0) rotate(46.3)" font-size="18.72" text-anchor="middle" y="6.83" style="stroke-width:0.5px">1.0</text>
<path d="M98.6 307.8 L102.5 308.7 L106.4 309.6 L110.3 310.6 L114.2 311.6 L118.0 312.6 L121.9 313.6 L125.7 314.7 L129.6 315.8 L133.4 316.9 L137.2 318.1 L141.0 319.3 L144.8 320.6 L148.6 321.9 L152.4 323.2 L156.2 324.5 L159.9 325.9 L163.7 327.3 L167.4 328.8 L171.1 330.3 L174.8 331.9 L178.5 333.4 L182.1 335.1 L185.7 336.7 L189.4 338.4 L193.0 340.2 L196.5 342.0 L200.1 343.8 L203.6 345.7 L207.1 347.6 L210.6 349.6 L214.1 351.6 L217.5 353.7 L220.9 355.8 L224.3 357.9 L227.6 360.1 L231.0 362.3 L234.3 364.6 L237.5 366.9 L240.8 369.2 L244.0 371.6 L247.2 374.0 L250.3 376.5" fill="none" stroke="#000" stroke-width="2.0" stroke-linejoin="round"/>
<path d="M280.9 406.0 L283.5 409.0 L286.1 412.0 L288.6 415.1 L291.2 418.2 L293.7 421.3 L296.1 424.5 L298.6 427.6 L301.0 430.8 L303.4 434.0 L305.8 437.2" fill="none" stroke="#000" stroke-width="2.0" stroke-linejoin="round"/>
<text transform="translate(267.5 391.8) rotate(44.5)" font-size="18.72" text-anchor="middle" y="6.83" style="stroke-width:0.5px">0.5</text>
<path d="M98.6 332.8 L102.3 334.4 L105.9 336.0 L109.5 337.7 L113.2 339.4 L116.7 341.2 L120.3 343.0 L123.9 344.8 L127.4 346.7 L130.9 348.6 L134.4 350.6 L137.8 352.6 L141.3 354.7 L144.7 356.7 L148.1 358.9 L151.4 361.1 L154.7 363.3 L158.0 365.6 L161.3 367.9 L164.5 370.2" fill="none" stroke="#000" stroke-width="2.0" stroke-linejoin="round"/>
<path d="M195.6 396.1 L198.5 398.9 L201.4 401.7 L204.2 404.5 L207.0 407.4 L209.7 410.3 L212.5 413.2 L215.2 416.2 L217.8 419.2 L220.5 422.2 L223.1 425.2 L225.6 428.3 L228.2 431.4 L230.7 434.5 L233.1 437.6" fill="none" stroke="#000" stroke-width="2.0" stroke-linejoin="round"/>
<text transform="translate(181.1 383.2) rotate(40.1)" font-size="18.72" text-anchor="middle" y="6.83" style="stroke-width:0.5px">0.1</text>
</g>
<rect x="100.60" y="136.00" width="581.00" height="288.30" fill="none" stroke="#000" stroke-width="1.35"/>
<g clip-path="url(#clip_l)">
<path d="M98.6 618.5 L102.6 618.2 L106.6 617.9 L110.6 617.6 L114.6 617.2 L118.6 616.9 L122.6 616.5 L126.6 616.1 L130.6 615.7 L134.6 615.3 L138.6 614.9 L142.6 614.5 L146.6 614.0 L150.6 613.5 L154.6 613.0 L158.6 612.5 L162.6 612.0 L166.6 611.4 L170.6 610.9 L174.6 610.3 L178.6 609.7 L182.6 609.0 L186.6 608.4 L190.6 607.7 L194.6 607.0 L198.6 606.3 L202.6 605.5 L206.6 604.7 L210.6 603.9 L214.6 603.0 L218.6 602.2 L222.6 601.2 L226.6 600.3 L230.6 599.3 L234.6 598.3 L238.6 597.2 L242.6 596.1 L246.6 595.0 L250.6 593.8 L254.6 592.6 L258.6 591.3 L262.6 590.0 L266.6 588.7 L270.6 587.2 L274.6 585.8 L278.6 584.3 L282.6 582.7 L286.6 581.0 L290.6 579.3 L294.6 577.6 L298.6 575.8 L302.6 573.9 L306.6 571.9 L310.6 569.9 L314.6 567.8 L318.6 565.6 L322.6 563.3 L326.6 561.0 L330.6 558.6 L334.6 556.0 L338.6 553.4 L342.6 550.7 L346.6 547.9 L350.6 545.0 L354.6 542.0 L358.6 538.8 L362.6 535.6 L366.6 532.2 L370.6 528.7 L374.6 525.1 L378.6 521.4 L382.6 517.5 L386.6 513.4 L390.6 509.3 L394.6 504.9 L398.6 500.4 L402.6 495.8 L406.6 491.0 L410.6 486.0 L414.6 480.8 L418.6 475.4 L422.6 469.8 L422.6 432.5 L98.6 432.5Z" fill="#1f77b4"/>
<path d="M98.6 615.3 L102.6 614.9 L106.6 614.5 L110.6 614.0 L114.6 613.6 L118.6 613.1 L122.6 612.6 L126.6 612.1 L130.6 611.6 L134.6 611.0 L138.6 610.4 L142.6 609.9 L146.6 609.2 L150.6 608.6 L154.6 607.9 L158.6 607.2 L162.6 606.5 L166.6 605.8 L170.6 605.0 L174.6 604.2 L178.6 603.4 L182.6 602.5 L186.6 601.6 L190.6 600.7 L194.6 599.7 L198.6 598.7 L202.6 597.6 L206.6 596.6 L210.6 595.4 L214.6 594.3 L218.6 593.0 L222.6 591.8 L226.6 590.5 L230.6 589.1 L234.6 587.7 L238.6 586.2 L242.6 584.7 L246.6 583.1 L250.6 581.5 L254.6 579.8 L258.6 578.0 L262.6 576.2 L266.6 574.3 L270.6 572.3 L274.6 570.2 L278.6 568.1 L282.6 565.9 L286.6 563.5 L290.6 561.1 L294.6 558.6 L298.6 556.0 L302.6 553.3 L306.6 550.5 L310.6 547.5 L314.6 544.5 L318.6 541.3 L322.6 538.0 L326.6 534.5 L330.6 531.0 L334.6 527.2 L338.6 523.4 L342.6 519.3 L346.6 515.1 L350.6 510.8 L354.6 506.2 L358.6 501.5 L362.6 496.6 L366.6 491.5 L370.6 486.2 L374.6 480.7 L378.6 475.1 L382.6 469.2 L382.6 432.5 L98.6 432.5Z" fill="#0000ff"/>
<path d="M98.6 624.5 L102.6 624.4 L106.6 624.3 L110.6 624.2 L114.6 624.1 L118.6 624.0 L122.6 623.9 L126.6 623.8 L130.6 623.7 L134.6 623.6 L138.6 623.5 L142.6 623.4 L146.6 623.2 L150.6 623.1 L154.6 623.0 L158.6 622.8 L162.6 622.7 L166.6 622.5 L170.6 622.4 L174.6 622.2 L178.6 622.0 L182.6 621.9 L186.6 621.7 L190.6 621.5 L194.6 621.3 L198.6 621.1 L202.6 620.9 L206.6 620.7 L210.6 620.5 L214.6 620.2 L218.6 620.0 L222.6 619.7 L226.6 619.5 L230.6 619.2 L234.6 618.9 L238.6 618.6 L242.6 618.3 L246.6 618.0 L250.6 617.7 L254.6 617.3 L258.6 617.0 L262.6 616.6 L266.6 616.2 L270.6 615.9 L274.6 615.4 L278.6 615.0 L282.6 614.6 L286.6 614.1 L290.6 613.7 L294.6 613.2 L298.6 612.7 L302.6 612.2 L306.6 611.6 L310.6 611.1 L314.6 610.5 L318.6 609.9 L322.6 609.3 L326.6 608.7 L330.6 608.0 L334.6 607.3 L338.6 606.6 L342.6 605.9 L346.6 605.2 L350.6 604.4 L354.6 603.6 L358.6 602.8 L362.6 601.9 L366.6 601.0 L370.6 600.1 L374.6 599.1 L378.6 598.1 L382.6 597.1 L386.6 596.1 L390.6 595.0 L394.6 593.8 L398.6 592.7 L402.6 591.5 L406.6 590.2 L410.6 588.9 L414.6 587.6 L418.6 586.2 L422.6 584.8 L426.6 583.3 L430.6 581.7 L434.6 580.2 L438.6 578.5 L442.0 577.1 L445.8 575.9 L449.6 574.7 L453.4 573.4 L457.2 572.1 L461.0 570.8 L464.7 569.3 L468.4 567.8 L472.1 566.2 L475.7 564.5 L479.3 562.7 L482.8 560.9 L486.4 559.0 L489.9 557.1 L493.3 555.1 L496.8 553.1 L500.3 551.0 L503.7 549.0 L507.1 546.9 L510.5 544.8 L513.9 542.7 L517.3 540.6 L520.7 538.5 L524.2 536.5 L527.6 534.4 L531.0 532.3 L534.4 530.3 L537.9 528.3 L541.3 526.2 L544.8 524.2 L548.3 522.2 L551.8 520.3 L555.3 518.4 L558.9 516.6 L562.5 514.8 L566.1 513.2 L569.8 511.7 L573.5 510.2 L577.3 508.9 L581.1 507.7 L585.0 506.6 L588.9 505.5 L592.8 504.5 L596.7 503.7 L600.7 503.2 L604.7 503.0 L608.7 503.2 L612.6 503.9 L616.5 505.0 L620.3 506.5 L623.9 508.3 L627.3 510.4 L630.5 512.9 L633.5 515.6 L636.2 518.5 L638.7 521.6 L640.9 525.0 L643.0 528.4 L645.0 531.9 L647.0 535.4 L648.8 538.9 L650.6 542.5 L652.3 546.1 L653.9 549.8 L655.5 553.5 L657.0 557.2 L658.5 560.9 L659.9 564.6 L661.2 568.4 L662.5 572.2 L663.7 576.0 L664.9 579.8 L666.1 583.6 L667.2 587.5 L668.3 591.3 L669.5 595.2 L670.5 599.0 L671.6 602.9 L672.8 606.7 L673.9 610.5 L675.0 614.4 L676.1 618.2 L677.1 622.1 L678.0 626.0 L678.8 629.9 L679.5 633.9 L680.2 637.8 L680.8 641.7 L681.5 645.7 L682.1 649.6 L682.5 652.0 L701.6 652.0 L701.6 800.8 L540.0 800.8 L540.0 776.5 L537.9 773.4 L535.7 770.0 L533.5 766.7 L531.3 763.4 L529.0 760.1 L526.7 756.8 L524.4 753.6 L522.0 750.4 L519.5 747.2 L517.0 744.1 L514.5 741.0 L511.9 737.9 L509.3 734.9 L506.7 731.9 L504.1 728.8 L501.5 725.8 L498.9 722.8 L496.2 719.7 L493.6 716.7 L491.0 713.7 L488.3 710.7 L485.6 707.8 L482.8 705.0 L479.9 702.2 L477.0 699.4 L473.9 696.8 L470.8 694.2 L467.7 691.8 L464.4 689.5 L461.1 687.2 L457.7 685.1 L454.2 683.1 L450.7 681.2 L447.2 679.4 L443.6 677.6 L440.0 675.8 L438.6 675.3 L434.6 673.9 L430.6 672.6 L426.6 671.1 L422.6 669.7 L418.6 668.3 L414.6 666.9 L410.6 665.5 L406.6 664.1 L402.6 662.6 L398.6 661.2 L394.6 659.8 L390.6 658.4 L386.6 657.0 L382.6 655.7 L378.6 654.5 L374.6 653.2 L370.6 652.1 L366.6 651.0 L362.6 649.9 L358.6 648.9 L354.6 647.9 L350.6 647.0 L346.6 646.0 L342.6 645.2 L338.6 644.3 L334.6 643.5 L330.6 642.7 L326.6 642.0 L322.6 641.3 L318.6 640.6 L314.6 639.9 L310.6 639.2 L306.6 638.6 L302.6 638.0 L298.6 637.4 L294.6 636.9 L290.6 636.3 L286.6 635.9 L282.6 635.4 L278.6 635.0 L274.6 634.7 L270.6 634.3 L266.6 634.0 L262.6 633.8 L258.6 633.5 L254.6 633.2 L250.6 633.0 L246.6 632.7 L242.6 632.5 L238.6 632.3 L234.6 632.1 L230.6 631.8 L226.6 631.6 L222.6 631.5 L218.6 631.3 L214.6 631.1 L210.6 630.9 L206.6 630.8 L202.6 630.6 L198.6 630.5 L194.6 630.3 L190.6 630.2 L186.6 630.1 L182.6 629.9 L178.6 629.8 L174.6 629.7 L170.6 629.6 L166.6 629.5 L162.6 629.4 L158.6 629.3 L154.6 629.2 L150.6 629.1 L146.6 629.0 L142.6 628.9 L138.6 628.8 L134.6 628.7 L130.6 628.7 L126.6 628.6 L122.6 628.5 L118.6 628.4 L114.6 628.4 L110.6 628.3 L106.6 628.3 L102.6 628.2 L98.6 628.1Z" fill="#2ca02c"/>
<path d="M98.6 624.5 L102.6 624.4 L106.6 624.3 L110.6 624.2 L114.6 624.1 L118.6 624.0 L122.6 623.9 L126.6 623.8 L130.6 623.7 L134.6 623.6 L138.6 623.5 L142.6 623.4 L146.6 623.2 L150.6 623.1 L154.6 623.0 L158.6 622.8 L162.6 622.7 L166.6 622.5 L170.6 622.4 L174.6 622.2 L178.6 622.0 L182.6 621.9 L186.6 621.7 L190.6 621.5 L194.6 621.3 L198.6 621.1 L202.6 620.9 L206.6 620.7 L210.6 620.5 L214.6 620.2 L218.6 620.0 L222.6 619.7 L226.6 619.5 L230.6 619.2 L234.6 618.9 L238.6 618.6 L242.6 618.3 L246.6 618.0 L250.6 617.7 L254.6 617.3 L258.6 617.0 L262.6 616.6 L266.6 616.2 L270.6 615.9 L274.6 615.4 L278.6 615.0 L282.6 614.6 L286.6 614.1 L290.6 613.7 L294.6 613.2 L298.6 612.7 L302.6 612.2 L306.6 611.6 L310.6 611.1 L314.6 610.5 L318.6 609.9 L322.6 609.3 L326.6 608.7 L330.6 608.0 L334.6 607.3 L338.6 606.6 L342.6 605.9 L346.6 605.2 L350.6 604.4 L354.6 603.6 L358.6 602.8 L362.6 601.9 L366.6 601.0 L370.6 600.1 L374.6 599.1 L378.6 598.1 L382.6 597.1 L386.6 596.1 L390.6 595.0 L394.6 593.8 L398.6 592.7 L402.6 591.5 L406.6 590.2 L410.6 588.9 L414.6 587.6 L418.6 586.2 L422.6 584.8 L426.6 583.3 L430.6 581.7 L434.6 580.2 L438.6 578.5 L442.0 577.1 L445.8 575.9 L449.6 574.7 L453.4 573.4 L457.2 572.1 L461.0 570.8 L464.7 569.3 L468.4 567.8 L472.1 566.2 L475.7 564.5 L479.3 562.7 L482.8 560.9 L486.4 559.0 L489.9 557.1 L493.3 555.1 L496.8 553.1 L500.3 551.0 L503.7 549.0 L507.1 546.9 L510.5 544.8 L513.9 542.7 L517.3 540.6 L520.7 538.5 L524.2 536.5 L527.6 534.4 L531.0 532.3 L534.4 530.3 L537.9 528.3 L541.3 526.2 L544.8 524.2 L548.3 522.2 L551.8 520.3 L555.3 518.4 L558.9 516.6 L562.5 514.8 L566.1 513.2 L569.8 511.7 L573.5 510.2 L577.3 508.9 L581.1 507.7 L585.0 506.6 L588.9 505.5 L592.8 504.5 L596.7 503.7 L600.7 503.2 L604.7 503.0 L608.7 503.2 L612.6 503.9 L616.5 505.0 L620.3 506.5 L623.9 508.3 L627.3 510.4 L630.5 512.9 L633.5 515.6 L636.2 518.5 L638.7 521.6 L640.9 525.0 L643.0 528.4 L645.0 531.9 L647.0 535.4 L648.8 538.9 L650.6 542.5 L652.3 546.1 L653.9 549.8 L655.5 553.5 L657.0 557.2 L658.5 560.9 L659.9 564.6 L661.2 568.4 L662.5 572.2 L663.7 576.0 L664.9 579.8 L666.1 583.6 L667.2 587.5 L668.3 591.3 L669.5 595.2 L670.5 599.0 L671.6 602.9 L672.8 606.7 L673.9 610.5 L675.0 614.4 L676.1 618.2 L677.1 622.1 L678.0 626.0 L678.8 629.9 L679.5 633.9 L680.2 637.8 L680.8 641.7 L681.5 645.7 L682.1 649.6 L682.5 652.0 L701.6 652.0 L701.6 800.8 L540.0 800.8 L540.0 776.5 L537.9 773.4 L535.7 770.0 L533.5 766.7 L531.3 763.4 L529.0 760.1 L526.7 756.8 L524.4 753.6 L522.0 750.4 L519.5 747.2 L517.0 744.1 L514.5 741.0 L511.9 737.9 L509.3 734.9 L506.7 731.9 L504.1 728.8 L501.5 725.8 L498.9 722.8 L496.2 719.7 L493.6 716.7 L491.0 713.7 L488.3 710.7 L485.6 707.8 L482.8 705.0 L479.9 702.2 L477.0 699.4 L473.9 696.8 L470.8 694.2 L467.7 691.8 L464.4 689.5 L461.1 687.2 L457.7 685.1 L454.2 683.1 L450.7 681.2 L447.2 679.4 L443.6 677.6 L440.0 675.8 L438.6 675.3 L434.6 673.9 L430.6 672.6 L426.6 671.1 L422.6 669.7 L418.6 668.3 L414.6 666.9 L410.6 665.5 L406.6 664.1 L402.6 662.6 L398.6 661.2 L394.6 659.8 L390.6 658.4 L386.6 657.0 L382.6 655.7 L378.6 654.5 L374.6 653.2 L370.6 652.1 L366.6 651.0 L362.6 649.9 L358.6 648.9 L354.6 647.9 L350.6 647.0 L346.6 646.0 L342.6 645.2 L338.6 644.3 L334.6 643.5 L330.6 642.7 L326.6 642.0 L322.6 641.3 L318.6 640.6 L314.6 639.9 L310.6 639.2 L306.6 638.6 L302.6 638.0 L298.6 637.4 L294.6 636.9 L290.6 636.3 L286.6 635.9 L282.6 635.4 L278.6 635.0 L274.6 634.7 L270.6 634.3 L266.6 634.0 L262.6 633.8 L258.6 633.5 L254.6 633.2 L250.6 633.0 L246.6 632.7 L242.6 632.5 L238.6 632.3 L234.6 632.1 L230.6 631.8 L226.6 631.6 L222.6 631.5 L218.6 631.3 L214.6 631.1 L210.6 630.9 L206.6 630.8 L202.6 630.6 L198.6 630.5 L194.6 630.3 L190.6 630.2 L186.6 630.1 L182.6 629.9 L178.6 629.8 L174.6 629.7 L170.6 629.6 L166.6 629.5 L162.6 629.4 L158.6 629.3 L154.6 629.2 L150.6 629.1 L146.6 629.0 L142.6 628.9 L138.6 628.8 L134.6 628.7 L130.6 628.7 L126.6 628.6 L122.6 628.5 L118.6 628.4 L114.6 628.4 L110.6 628.3 L106.6 628.3 L102.6 628.2 L98.6 628.1Z" fill="url(#dots)"/>
<path d="M98.6 625.6 L102.6 625.5 L106.6 625.5 L110.6 625.5 L114.6 625.4 L118.6 625.4 L122.6 625.3 L126.6 625.3 L130.6 625.2 L134.6 625.2 L138.6 625.1 L142.6 625.1 L146.6 625.0 L150.6 624.9 L154.6 624.9 L158.6 624.8 L162.6 624.7 L166.6 624.7 L170.6 624.6 L174.6 624.5 L178.6 624.4 L182.6 624.3 L186.6 624.3 L190.6 624.2 L194.6 624.1 L198.6 624.0 L202.6 623.9 L206.6 623.8 L210.6 623.7 L214.6 623.6 L218.6 623.4 L222.6 623.3 L226.6 623.2 L230.6 623.1 L234.6 622.9 L238.6 622.8 L242.6 622.7 L246.6 622.5 L250.6 622.4 L254.6 622.2 L258.6 622.0 L262.6 621.9 L266.6 621.7 L270.6 621.5 L274.6 621.3 L278.6 621.1 L282.6 620.9 L286.6 620.7 L290.6 620.5 L294.6 620.3 L298.6 620.1 L302.6 619.9 L306.6 619.6 L310.6 619.4 L314.6 619.1 L318.6 618.9 L322.6 618.6 L326.6 618.4 L330.6 618.1 L334.6 617.8 L338.6 617.6 L342.6 617.3 L346.6 617.0 L350.6 616.7 L354.6 616.4 L358.6 616.0 L362.6 615.7 L366.6 615.4 L370.6 615.1 L374.6 614.7 L378.6 614.4 L382.6 614.0 L386.6 613.7 L390.6 613.3 L394.6 612.9 L398.6 612.5 L402.6 612.1 L406.6 611.7 L410.6 611.3 L414.6 610.9 L418.6 610.5 L422.6 610.0 L426.6 609.6 L430.6 609.1 L434.6 608.7 L438.6 608.2 L442.0 607.8 L446.0 607.3 L449.9 606.9 L453.9 606.5 L457.9 606.0 L461.9 605.6 L465.8 605.2 L469.8 604.7 L473.8 604.3 L477.8 604.0 L481.8 603.6 L485.8 603.2 L489.8 602.9 L493.8 602.6 L497.8 602.4 L501.8 602.2 L505.8 602.1 L509.8 602.0 L513.8 602.0 L517.7 602.1 L521.7 602.3 L525.7 602.6 L529.7 602.9 L533.7 603.4 L537.7 603.9 L541.6 604.6 L545.6 605.3 L549.5 606.1 L553.4 607.1 L557.3 608.3 L561.0 609.6 L564.7 611.2 L568.3 612.9 L571.7 614.9 L575.1 617.0 L578.4 619.3 L581.7 621.7 L584.9 624.1 L588.1 626.6 L591.2 629.1 L594.3 631.7 L597.2 634.4 L600.0 637.3 L602.7 640.2 L605.2 643.3 L607.6 646.6 L609.8 649.9 L611.9 653.3 L613.8 656.8 L615.7 660.4 L617.5 664.0 L619.2 667.6 L620.8 671.2 L622.4 674.9 L623.9 678.6 L625.3 682.3 L626.8 686.1 L628.2 689.8 L629.6 693.6 L631.0 697.3 L632.4 701.1 L633.8 704.8 L635.2 708.6 L636.5 712.4 L637.7 716.2 L638.8 720.0 L639.9 723.9 L640.9 727.7 L641.9 731.6 L642.9 735.5 L643.9 739.3 L645.0 743.2 L646.0 747.1 L647.0 750.9 L648.0 754.8 L649.0 758.7 L649.9 762.6 L650.8 766.5 L651.7 770.4 L652.5 774.3 L653.3 778.0 L653.3 800.8 L571.0 800.8 L571.0 776.5 L569.3 773.4 L567.3 769.9 L565.3 766.5 L563.3 763.0 L561.2 759.6 L559.1 756.2 L556.9 752.8 L554.7 749.5 L552.5 746.2 L550.2 742.9 L547.9 739.6 L545.6 736.4 L543.2 733.1 L540.8 730.0 L538.3 726.8 L535.8 723.7 L533.3 720.6 L530.8 717.5 L528.2 714.4 L525.5 711.4 L522.9 708.4 L520.2 705.4 L517.5 702.5 L514.8 699.6 L512.0 696.7 L509.1 693.9 L506.2 691.1 L503.2 688.5 L500.2 685.9 L497.1 683.4 L493.9 681.0 L490.6 678.7 L487.3 676.4 L483.9 674.3 L480.4 672.2 L477.0 670.3 L473.4 668.4 L469.9 666.5 L466.2 664.8 L462.6 663.2 L458.9 661.7 L455.2 660.3 L451.4 658.9 L447.6 657.6 L443.8 656.3 L440.0 655.1 L438.6 654.7 L434.6 653.5 L430.6 652.3 L426.6 651.2 L422.6 650.2 L418.6 649.2 L414.6 648.2 L410.6 647.3 L406.6 646.5 L402.6 645.7 L398.6 644.9 L394.6 644.2 L390.6 643.5 L386.6 642.8 L382.6 642.1 L378.6 641.5 L374.6 640.9 L370.6 640.4 L366.6 639.9 L362.6 639.4 L358.6 638.9 L354.6 638.4 L350.6 638.0 L346.6 637.5 L342.6 637.1 L338.6 636.8 L334.6 636.4 L330.6 636.1 L326.6 635.7 L322.6 635.4 L318.6 635.1 L314.6 634.8 L310.6 634.6 L306.6 634.3 L302.6 634.1 L298.6 633.8 L294.6 633.6 L290.6 633.4 L286.6 633.2 L282.6 633.0 L278.6 632.8 L274.6 632.6 L270.6 632.4 L266.6 632.2 L262.6 632.0 L258.6 631.8 L254.6 631.7 L250.6 631.5 L246.6 631.4 L242.6 631.2 L238.6 631.0 L234.6 630.9 L230.6 630.7 L226.6 630.6 L222.6 630.5 L218.6 630.3 L214.6 630.2 L210.6 630.1 L206.6 630.0 L202.6 629.9 L198.6 629.8 L194.6 629.6 L190.6 629.5 L186.6 629.4 L182.6 629.3 L178.6 629.3 L174.6 629.2 L170.6 629.1 L166.6 629.0 L162.6 628.9 L158.6 628.8 L154.6 628.8 L150.6 628.7 L146.6 628.6 L142.6 628.5 L138.6 628.5 L134.6 628.4 L130.6 628.3 L126.6 628.3 L122.6 628.2 L118.6 628.2 L114.6 628.1 L110.6 628.1 L106.6 628.0 L102.6 628.0 L98.6 627.9Z" fill="#006400"/>
<path d="M98.6 625.6 L102.6 625.5 L106.6 625.5 L110.6 625.5 L114.6 625.4 L118.6 625.4 L122.6 625.3 L126.6 625.3 L130.6 625.2 L134.6 625.2 L138.6 625.1 L142.6 625.1 L146.6 625.0 L150.6 624.9 L154.6 624.9 L158.6 624.8 L162.6 624.7 L166.6 624.7 L170.6 624.6 L174.6 624.5 L178.6 624.4 L182.6 624.3 L186.6 624.3 L190.6 624.2 L194.6 624.1 L198.6 624.0 L202.6 623.9 L206.6 623.8 L210.6 623.7 L214.6 623.6 L218.6 623.4 L222.6 623.3 L226.6 623.2 L230.6 623.1 L234.6 622.9 L238.6 622.8 L242.6 622.7 L246.6 622.5 L250.6 622.4 L254.6 622.2 L258.6 622.0 L262.6 621.9 L266.6 621.7 L270.6 621.5 L274.6 621.3 L278.6 621.1 L282.6 620.9 L286.6 620.7 L290.6 620.5 L294.6 620.3 L298.6 620.1 L302.6 619.9 L306.6 619.6 L310.6 619.4 L314.6 619.1 L318.6 618.9 L322.6 618.6 L326.6 618.4 L330.6 618.1 L334.6 617.8 L338.6 617.6 L342.6 617.3 L346.6 617.0 L350.6 616.7 L354.6 616.4 L358.6 616.0 L362.6 615.7 L366.6 615.4 L370.6 615.1 L374.6 614.7 L378.6 614.4 L382.6 614.0 L386.6 613.7 L390.6 613.3 L394.6 612.9 L398.6 612.5 L402.6 612.1 L406.6 611.7 L410.6 611.3 L414.6 610.9 L418.6 610.5 L422.6 610.0 L426.6 609.6 L430.6 609.1 L434.6 608.7 L438.6 608.2 L442.0 607.8 L446.0 607.3 L449.9 606.9 L453.9 606.5 L457.9 606.0 L461.9 605.6 L465.8 605.2 L469.8 604.7 L473.8 604.3 L477.8 604.0 L481.8 603.6 L485.8 603.2 L489.8 602.9 L493.8 602.6 L497.8 602.4 L501.8 602.2 L505.8 602.1 L509.8 602.0 L513.8 602.0 L517.7 602.1 L521.7 602.3 L525.7 602.6 L529.7 602.9 L533.7 603.4 L537.7 603.9 L541.6 604.6 L545.6 605.3 L549.5 606.1 L553.4 607.1 L557.3 608.3 L561.0 609.6 L564.7 611.2 L568.3 612.9 L571.7 614.9 L575.1 617.0 L578.4 619.3 L581.7 621.7 L584.9 624.1 L588.1 626.6 L591.2 629.1 L594.3 631.7 L597.2 634.4 L600.0 637.3 L602.7 640.2 L605.2 643.3 L607.6 646.6 L609.8 649.9 L611.9 653.3 L613.8 656.8 L615.7 660.4 L617.5 664.0 L619.2 667.6 L620.8 671.2 L622.4 674.9 L623.9 678.6 L625.3 682.3 L626.8 686.1 L628.2 689.8 L629.6 693.6 L631.0 697.3 L632.4 701.1 L633.8 704.8 L635.2 708.6 L636.5 712.4 L637.7 716.2 L638.8 720.0 L639.9 723.9 L640.9 727.7 L641.9 731.6 L642.9 735.5 L643.9 739.3 L645.0 743.2 L646.0 747.1 L647.0 750.9 L648.0 754.8 L649.0 758.7 L649.9 762.6 L650.8 766.5 L651.7 770.4 L652.5 774.3 L653.3 778.0 L653.3 800.8 L571.0 800.8 L571.0 776.5 L569.3 773.4 L567.3 769.9 L565.3 766.5 L563.3 763.0 L561.2 759.6 L559.1 756.2 L556.9 752.8 L554.7 749.5 L552.5 746.2 L550.2 742.9 L547.9 739.6 L545.6 736.4 L543.2 733.1 L540.8 730.0 L538.3 726.8 L535.8 723.7 L533.3 720.6 L530.8 717.5 L528.2 714.4 L525.5 711.4 L522.9 708.4 L520.2 705.4 L517.5 702.5 L514.8 699.6 L512.0 696.7 L509.1 693.9 L506.2 691.1 L503.2 688.5 L500.2 685.9 L497.1 683.4 L493.9 681.0 L490.6 678.7 L487.3 676.4 L483.9 674.3 L480.4 672.2 L477.0 670.3 L473.4 668.4 L469.9 666.5 L466.2 664.8 L462.6 663.2 L458.9 661.7 L455.2 660.3 L451.4 658.9 L447.6 657.6 L443.8 656.3 L440.0 655.1 L438.6 654.7 L434.6 653.5 L430.6 652.3 L426.6 651.2 L422.6 650.2 L418.6 649.2 L414.6 648.2 L410.6 647.3 L406.6 646.5 L402.6 645.7 L398.6 644.9 L394.6 644.2 L390.6 643.5 L386.6 642.8 L382.6 642.1 L378.6 641.5 L374.6 640.9 L370.6 640.4 L366.6 639.9 L362.6 639.4 L358.6 638.9 L354.6 638.4 L350.6 638.0 L346.6 637.5 L342.6 637.1 L338.6 636.8 L334.6 636.4 L330.6 636.1 L326.6 635.7 L322.6 635.4 L318.6 635.1 L314.6 634.8 L310.6 634.6 L306.6 634.3 L302.6 634.1 L298.6 633.8 L294.6 633.6 L290.6 633.4 L286.6 633.2 L282.6 633.0 L278.6 632.8 L274.6 632.6 L270.6 632.4 L266.6 632.2 L262.6 632.0 L258.6 631.8 L254.6 631.7 L250.6 631.5 L246.6 631.4 L242.6 631.2 L238.6 631.0 L234.6 630.9 L230.6 630.7 L226.6 630.6 L222.6 630.5 L218.6 630.3 L214.6 630.2 L210.6 630.1 L206.6 630.0 L202.6 629.9 L198.6 629.8 L194.6 629.6 L190.6 629.5 L186.6 629.4 L182.6 629.3 L178.6 629.3 L174.6 629.2 L170.6 629.1 L166.6 629.0 L162.6 628.9 L158.6 628.8 L154.6 628.8 L150.6 628.7 L146.6 628.6 L142.6 628.5 L138.6 628.5 L134.6 628.4 L130.6 628.3 L126.6 628.3 L122.6 628.2 L118.6 628.2 L114.6 628.1 L110.6 628.1 L106.6 628.0 L102.6 628.0 L98.6 627.9Z" fill="url(#dots)"/>
<path d="M98.6 632.8 L102.6 633.1 L106.6 633.3 L110.6 633.6 L114.6 633.8 L118.6 634.1 L122.6 634.4 L126.6 634.7 L130.6 635.0 L134.6 635.3 L138.6 635.6 L142.6 636.0 L146.6 636.3 L150.6 636.7 L154.6 637.1 L158.6 637.5 L162.6 637.9 L166.6 638.3 L170.6 638.7 L174.6 639.2 L178.6 639.6 L182.6 640.1 L186.6 640.6 L190.6 641.2 L194.6 641.7 L198.6 642.3 L202.6 642.9 L206.6 643.5 L210.6 644.1 L214.6 644.8 L218.6 645.5 L222.6 646.2 L226.6 646.9 L230.6 647.7 L234.6 648.5 L238.6 649.3 L242.6 650.1 L246.6 651.0 L250.6 651.9 L254.6 652.9 L258.6 653.9 L262.6 654.9 L266.6 656.0 L270.6 657.1 L274.6 658.2 L278.6 659.4 L282.6 660.6 L286.6 661.9 L290.6 663.2 L294.6 664.5 L298.6 665.9 L302.6 667.4 L306.6 668.9 L310.6 670.4 L314.6 672.0 L318.6 673.7 L322.6 675.4 L326.6 677.1 L330.6 679.0 L334.6 680.9 L338.6 682.9 L342.6 685.0 L346.6 687.1 L350.6 689.3 L354.6 691.6 L358.6 694.0 L362.6 696.6 L366.6 699.2 L370.6 701.9 L374.6 704.7 L378.6 707.6 L382.6 710.6 L386.6 713.7 L390.6 717.0 L394.6 720.4 L398.6 723.9 L402.6 727.5 L406.6 731.3 L410.6 735.3 L414.6 739.3 L418.6 743.6 L422.6 748.0 L426.6 752.5 L430.6 757.3 L434.6 762.2 L438.6 767.3 L442.6 772.6 L446.6 778.1 L450.6 783.8 L450.6 820.8 L98.6 820.8Z" fill="#9467bd"/>
<path d="M98.6 632.8 L102.6 633.1 L106.6 633.3 L110.6 633.6 L114.6 633.8 L118.6 634.1 L122.6 634.4 L126.6 634.7 L130.6 635.0 L134.6 635.3 L138.6 635.6 L142.6 636.0 L146.6 636.3 L150.6 636.7 L154.6 637.1 L158.6 637.5 L162.6 637.9 L166.6 638.3 L170.6 638.7 L174.6 639.2 L178.6 639.6 L182.6 640.1 L186.6 640.6 L190.6 641.2 L194.6 641.7 L198.6 642.3 L202.6 642.9 L206.6 643.5 L210.6 644.1 L214.6 644.8 L218.6 645.5 L222.6 646.2 L226.6 646.9 L230.6 647.7 L234.6 648.5 L238.6 649.3 L242.6 650.1 L246.6 651.0 L250.6 651.9 L254.6 652.9 L258.6 653.9 L262.6 654.9 L266.6 656.0 L270.6 657.1 L274.6 658.2 L278.6 659.4 L282.6 660.6 L286.6 661.9 L290.6 663.2 L294.6 664.5 L298.6 665.9 L302.6 667.4 L306.6 668.9 L310.6 670.4 L314.6 672.0 L318.6 673.7 L322.6 675.4 L326.6 677.1 L330.6 679.0 L334.6 680.9 L338.6 682.9 L342.6 685.0 L346.6 687.1 L350.6 689.3 L354.6 691.6 L358.6 694.0 L362.6 696.6 L366.6 699.2 L370.6 701.9 L374.6 704.7 L378.6 707.6 L382.6 710.6 L386.6 713.7 L390.6 717.0 L394.6 720.4 L398.6 723.9 L402.6 727.5 L406.6 731.3 L410.6 735.3 L414.6 739.3 L418.6 743.6 L422.6 748.0 L426.6 752.5 L430.6 757.3 L434.6 762.2 L438.6 767.3 L442.6 772.6 L446.6 778.1 L450.6 783.8 L450.6 820.8 L98.6 820.8Z" fill="url(#hl)"/>
<path d="M98.6 637.8 L102.6 638.3 L106.6 638.7 L110.6 639.1 L114.6 639.6 L118.6 640.1 L122.6 640.6 L126.6 641.1 L130.6 641.7 L134.6 642.3 L138.6 642.9 L142.6 643.5 L146.6 644.1 L150.6 644.8 L154.6 645.5 L158.6 646.2 L162.6 646.9 L166.6 647.7 L170.6 648.5 L174.6 649.3 L178.6 650.1 L182.6 651.0 L186.6 652.0 L190.6 652.9 L194.6 653.9 L198.6 654.9 L202.6 656.0 L206.6 657.1 L210.6 658.3 L214.6 659.5 L218.6 660.7 L222.6 662.0 L226.6 663.3 L230.6 664.7 L234.6 666.2 L238.6 667.7 L242.6 669.2 L246.6 670.8 L250.6 672.5 L254.6 674.2 L258.6 676.0 L262.6 677.9 L266.6 679.8 L270.6 681.8 L274.6 683.9 L278.6 686.1 L282.6 688.4 L286.6 690.7 L290.6 693.1 L294.6 695.7 L298.6 698.3 L302.6 701.0 L306.6 703.8 L310.6 706.8 L314.6 709.8 L318.6 713.0 L322.6 716.3 L326.6 719.7 L330.6 723.3 L334.6 727.0 L338.6 730.8 L342.6 734.8 L346.6 738.9 L350.6 743.2 L354.6 747.6 L358.6 752.2 L362.6 757.0 L366.6 762.0 L370.6 767.2 L374.6 772.5 L378.6 778.1 L382.6 783.9 L382.6 820.8 L98.6 820.8Z" fill="#800080"/>
<path d="M98.6 637.8 L102.6 638.3 L106.6 638.7 L110.6 639.1 L114.6 639.6 L118.6 640.1 L122.6 640.6 L126.6 641.1 L130.6 641.7 L134.6 642.3 L138.6 642.9 L142.6 643.5 L146.6 644.1 L150.6 644.8 L154.6 645.5 L158.6 646.2 L162.6 646.9 L166.6 647.7 L170.6 648.5 L174.6 649.3 L178.6 650.1 L182.6 651.0 L186.6 652.0 L190.6 652.9 L194.6 653.9 L198.6 654.9 L202.6 656.0 L206.6 657.1 L210.6 658.3 L214.6 659.5 L218.6 660.7 L222.6 662.0 L226.6 663.3 L230.6 664.7 L234.6 666.2 L238.6 667.7 L242.6 669.2 L246.6 670.8 L250.6 672.5 L254.6 674.2 L258.6 676.0 L262.6 677.9 L266.6 679.8 L270.6 681.8 L274.6 683.9 L278.6 686.1 L282.6 688.4 L286.6 690.7 L290.6 693.1 L294.6 695.7 L298.6 698.3 L302.6 701.0 L306.6 703.8 L310.6 706.8 L314.6 709.8 L318.6 713.0 L322.6 716.3 L326.6 719.7 L330.6 723.3 L334.6 727.0 L338.6 730.8 L342.6 734.8 L346.6 738.9 L350.6 743.2 L354.6 747.6 L358.6 752.2 L362.6 757.0 L366.6 762.0 L370.6 767.2 L374.6 772.5 L378.6 778.1 L382.6 783.9 L382.6 820.8 L98.6 820.8Z" fill="url(#hl)"/>
<path d="M98.6 611.1 L102.6 610.5 L106.5 609.9 L110.5 609.3 L114.4 608.6 L118.4 607.9 L122.3 607.2 L126.2 606.5 L130.2 605.8 L134.1 605.0 L138.0 604.2 L141.9 603.4 L145.8 602.5 L149.7 601.6 L153.6 600.7 L157.5 599.7 L161.4 598.7 L165.2 597.7 L169.1 596.7 L172.9 595.6 L176.8 594.4 L180.6 593.3 L184.4 592.1 L188.2 590.8 L192.0 589.5 L195.8 588.2 L199.5 586.8 L203.3 585.4 L207.0 584.0 L210.7 582.5 L214.4 580.9 L218.1 579.4 L221.7 577.7 L225.4 576.0 L229.0 574.3 L232.5 572.5 L236.1 570.7 L239.6 568.8 L243.2 566.9 L246.6 565.0 L250.1 562.9 L253.5 560.9 L256.9 558.8 L260.3 556.6 L263.6 554.4 L266.9 552.2 L270.2 549.8 L273.4 547.5 L276.6 545.1 L279.8 542.7 L282.9 540.2" fill="none" stroke="#000" stroke-width="2.0" stroke-linejoin="round"/>
<path d="M311.9 513.4 L314.7 510.5 L317.4 507.5 L320.0 504.5 L322.7 501.5 L325.2 498.5 L327.8 495.4 L330.3 492.3 L332.8 489.2 L335.3 486.0 L337.7 482.8 L340.0 479.6 L342.4 476.3 L344.7 473.1" fill="none" stroke="#000" stroke-width="2.0" stroke-linejoin="round"/>
<text transform="translate(298.1 527.1) rotate(-42.8)" font-size="18.72" text-anchor="middle" y="6.83" style="stroke-width:0.5px">5.0</text>
<path d="M98.6 622.8 L102.6 622.7 L106.6 622.5 L110.6 622.4 L114.6 622.2 L118.6 622.1 L122.6 621.9 L126.6 621.7 L130.6 621.5 L134.6 621.3 L138.6 621.1 L142.6 620.9 L146.6 620.7 L150.5 620.5 L154.5 620.2 L158.5 620.0 L162.5 619.7 L166.5 619.5 L170.5 619.2 L174.5 618.9 L178.5 618.6 L182.5 618.3 L186.5 618.0 L190.4 617.7 L194.4 617.3 L198.4 617.0 L202.4 616.6 L206.4 616.2 L210.4 615.8 L214.3 615.4 L218.3 615.0 L222.3 614.6 L226.3 614.1 L230.2 613.7 L234.2 613.2 L238.2 612.7 L242.1 612.1 L246.1 611.6 L250.1 611.0 L254.0 610.4 L258.0 609.8 L261.9 609.2 L265.9 608.5 L269.8 607.8 L273.7 607.1 L277.7 606.4 L281.6 605.6 L285.5 604.8 L289.4 604.0 L293.3 603.1 L297.2 602.2 L301.1 601.3 L305.0 600.3 L308.9 599.3 L312.7 598.3 L316.6 597.2 L320.4 596.1 L324.3 595.0 L328.1 593.8 L331.9 592.5 L335.7 591.3 L339.5 590.0 L343.2 588.6 L347.0 587.2 L350.7 585.8 L354.4 584.3 L358.1 582.8 L361.8 581.2 L365.5 579.6 L369.1 578.0 L372.8 576.3 L376.4 574.6 L380.0 572.8 L383.5 571.0 L387.1 569.2 L390.6 567.3 L394.1 565.3 L397.6 563.4 L401.0 561.3 L404.4 559.2 L407.8 557.1 L411.1 554.8 L414.4 552.5 L417.6 550.2 L420.8 547.7 L423.9 545.3 L427.0 542.7 L430.1 540.1 L433.1 537.5 L436.1 534.8 L439.0 532.1 L441.9 529.4 L444.8 526.6 L447.6 523.8 L450.4 520.9 L453.2 518.1 L456.0 515.2" fill="none" stroke="#000" stroke-width="2.0" stroke-linejoin="round"/>
<path d="M482.3 483.8 L484.7 480.5 L487.0 477.3 L489.3 474.0 L491.6 470.7 L493.8 467.4" fill="none" stroke="#000" stroke-width="2.0" stroke-linejoin="round"/>
<text transform="translate(470.2 499.1) rotate(-50.3)" font-size="18.72" text-anchor="middle" y="6.83" style="stroke-width:0.5px">3.0</text>
<path d="M98.6 628.1 L102.6 628.2 L106.6 628.3 L110.6 628.3 L114.6 628.4 L118.6 628.4 L122.6 628.5 L126.6 628.6 L130.6 628.6 L134.6 628.7 L138.6 628.8 L142.6 628.9 L146.6 629.0 L150.6 629.1 L154.6 629.1 L158.6 629.2 L162.6 629.3 L166.6 629.4 L170.6 629.5 L174.6 629.7 L178.6 629.8 L182.6 629.9 L186.6 630.0 L190.6 630.1 L194.6 630.3 L198.6 630.4 L202.6 630.5 L206.6 630.7 L210.6 630.8 L214.6 631.0 L218.6 631.2 L222.6 631.3 L226.6 631.5 L230.5 631.7 L234.5 631.9 L238.5 632.1 L242.5 632.3 L246.5 632.5 L250.5 632.7 L254.5 633.0 L258.5 633.2 L262.5 633.4 L266.5 633.7 L270.5 634.0 L274.5 634.2 L278.5 634.5 L282.5 634.8 L286.4 635.1 L290.4 635.4 L294.4 635.8 L298.4 636.1 L302.4 636.4 L306.4 636.8 L310.4 637.2 L314.3 637.6 L318.3 638.0 L322.3 638.4 L326.3 638.8 L330.2 639.2 L334.2 639.7 L338.2 640.1 L342.2 640.6 L346.1 641.1 L350.1 641.6 L354.1 642.2 L358.0 642.7 L362.0 643.3 L365.9 643.8 L369.9 644.5 L373.9 645.1 L377.8 645.7 L381.7 646.4 L385.7 647.1 L389.6 647.8 L393.6 648.5 L397.5 649.2 L401.4 650.0 L405.3 650.8 L409.2 651.6 L413.2 652.5 L417.1 653.4 L420.9 654.3 L424.8 655.2 L428.7 656.2 L432.6 657.2 L436.5 658.2 L440.4 659.0 L444.3 659.9 L448.1 660.9 L452.0 661.9 L455.9 662.9 L459.7 664.0 L463.6 665.0 L467.5 666.0 L471.3 667.1 L475.2 668.2 L479.0 669.3 L482.9 670.4 L486.7 671.6 L490.5 672.9 L494.2 674.3 L498.0 675.6 L501.7 677.0 L505.5 678.3" fill="none" stroke="#000" stroke-width="2.0" stroke-linejoin="round"/>
<path d="M545.3 691.5 L549.1 693.0 L552.8 694.4 L556.6 695.7 L560.4 697.0 L564.2 698.2 L568.1 699.2 L571.9 700.2 L575.8 701.1 L579.8 701.9 L583.7 702.6 L587.7 703.2 L591.6 703.6 L595.6 703.8 L599.6 703.8 L603.6 703.4 L607.6 702.8 L611.5 702.0 L615.3 701.0 L619.2 699.9 L623.0 698.6 L626.7 697.2 L630.3 695.4 L633.8 693.4 L637.1 691.1 L640.2 688.7 L643.3 686.1 L646.2 683.4 L649.1 680.6 L651.8 677.6 L654.3 674.6 L656.7 671.4 L659.0 668.1 L661.2 664.7 L663.3 661.3 L665.3 657.9 L667.3 654.4 L669.2 650.9 L671.1 647.3 L672.8 643.7 L674.3 640.0 L675.5 636.2 L676.5 632.3 L677.7 628.5 L679.2 624.8 L680.7 621.1 L682.2 617.4 L683.5 613.6" fill="none" stroke="#000" stroke-width="2.0" stroke-linejoin="round"/>
<text transform="translate(527.1 684.7) rotate(17.9)" font-size="18.72" text-anchor="middle" y="6.83" style="stroke-width:0.5px">2.0</text>
<path d="M98.6 631.2 L102.6 631.3 L106.6 631.5 L110.6 631.7 L114.6 631.9 L118.6 632.1 L122.6 632.3 L126.6 632.5 L130.6 632.7 L134.6 633.0 L138.5 633.2 L142.5 633.4 L146.5 633.7 L150.5 634.0 L154.5 634.2 L158.5 634.5 L162.5 634.8 L166.5 635.1 L170.5 635.4 L174.5 635.8 L178.4 636.1 L182.4 636.5 L186.4 636.8 L190.4 637.2 L194.4 637.6 L198.3 638.0 L202.3 638.4 L206.3 638.9 L210.3 639.3 L214.2 639.8 L218.2 640.3 L222.2 640.8 L226.2 641.3 L230.1 641.9 L234.1 642.4 L238.0 643.0 L242.0 643.6 L245.9 644.3 L249.9 644.9 L253.8 645.6 L257.8 646.3 L261.7 647.0 L265.6 647.7 L269.6 648.5 L273.5 649.3 L277.4 650.2 L281.3 651.0 L285.2 651.9 L289.1 652.8 L293.0 653.7 L296.9 654.7 L300.7 655.7 L304.6 656.8 L308.4 657.8 L312.3 658.9 L316.1 660.1 L319.9 661.3 L323.8 662.5 L327.5 663.7 L331.3 665.0 L335.1 666.4 L338.9 667.8 L342.6 669.2 L346.3 670.7 L350.0 672.2 L353.7 673.8 L357.3 675.4 L361.0 677.0 L364.6 678.7 L368.2 680.5 L371.8 682.3 L375.3 684.2 L378.8 686.1 L382.3 688.0 L385.8 690.0 L389.2 692.1 L392.6 694.2 L396.0 696.3 L399.4 698.5 L402.7 700.7 L406.0 703.0 L409.2 705.3 L412.4 707.7 L415.6 710.1 L418.8 712.6 L421.9 715.1 L425.0 717.6 L428.0 720.2 L431.0 722.8 L434.0 725.5 L437.0 728.2 L439.9 730.9 L442.8 733.7 L445.8 736.4 L448.7 739.1" fill="none" stroke="#000" stroke-width="2.0" stroke-linejoin="round"/>
<path d="M478.3 769.6 L480.9 772.6 L483.5 775.7 L486.0 778.8 L488.5 781.9" fill="none" stroke="#000" stroke-width="2.0" stroke-linejoin="round"/>
<text transform="translate(465.0 755.3) rotate(46.2)" font-size="18.72" text-anchor="middle" y="6.83" style="stroke-width:0.5px">1.5</text>
<path d="M98.6 635.0 L102.6 635.3 L106.6 635.6 L110.6 636.0 L114.5 636.3 L118.5 636.7 L122.5 637.1 L126.5 637.5 L130.5 637.9 L134.4 638.3 L138.4 638.7 L142.4 639.2 L146.4 639.7 L150.3 640.1 L154.3 640.6 L158.3 641.2 L162.2 641.7 L166.2 642.3 L170.2 642.9 L174.1 643.5 L178.1 644.1 L182.0 644.7 L185.9 645.4 L189.9 646.1 L193.8 646.8 L197.8 647.6 L201.7 648.4 L205.6 649.2 L209.5 650.0 L213.4 650.9 L217.3 651.7 L221.2 652.7 L225.1 653.6 L229.0 654.6 L232.8 655.6 L236.7 656.7 L240.5 657.8 L244.4 658.9 L248.2 660.1 L252.0 661.3 L255.8 662.5 L259.6 663.8 L263.4 665.1 L267.2 666.4 L270.9 667.9 L274.6 669.3 L278.3 670.8 L282.0 672.3 L285.7 673.9 L289.4 675.5 L293.0 677.2 L296.6 678.9 L300.2 680.6 L303.8 682.4 L307.3 684.3 L310.9 686.2 L314.4 688.1 L317.8 690.1 L321.3 692.1 L324.7 694.2 L328.1 696.4 L331.4 698.5 L334.8 700.7 L338.1 703.0 L341.3 705.3 L344.6 707.7 L347.8 710.1 L350.9 712.5 L354.1 715.0 L357.1 717.5 L360.2 720.1 L363.2 722.7 L366.2 725.4 L369.2 728.1 L372.1 730.8" fill="none" stroke="#000" stroke-width="2.0" stroke-linejoin="round"/>
<path d="M398.7 759.3 L401.2 762.4 L403.7 765.5 L406.2 768.7 L408.6 771.9 L411.0 775.1 L413.4 778.3 L415.7 781.6 L418.0 784.8" fill="none" stroke="#000" stroke-width="2.0" stroke-linejoin="round"/>
<text transform="translate(385.8 744.7) rotate(47.0)" font-size="18.72" text-anchor="middle" y="6.83" style="stroke-width:0.5px">1.0</text>
<path d="M98.6 640.3 L102.6 640.8 L106.5 641.3 L110.5 641.9 L114.5 642.5 L118.4 643.1 L122.4 643.7 L126.3 644.3 L130.3 645.0 L134.2 645.7 L138.1 646.4 L142.1 647.1 L146.0 647.9 L149.9 648.6 L153.8 649.5 L157.7 650.3 L161.6 651.2 L165.5 652.1 L169.4 653.0 L173.3 654.0 L177.2 655.0 L181.0 656.0 L184.9 657.1 L188.7 658.2 L192.6 659.4 L196.4 660.6 L200.2 661.8 L204.0 663.0 L207.8 664.3 L211.5 665.7 L215.3 667.1 L219.0 668.5 L222.7 670.0 L226.4 671.5 L230.1 673.1 L233.8 674.7 L237.4 676.3 L241.0 678.0 L244.6 679.8 L248.2 681.6 L251.8 683.4 L255.3 685.3 L258.8 687.3 L262.2 689.3 L265.7 691.3 L269.1 693.4 L272.5 695.6 L275.8 697.8 L279.1 700.0 L282.4 702.3 L285.6 704.7 L288.8 707.1 L292.0 709.6" fill="none" stroke="#000" stroke-width="2.0" stroke-linejoin="round"/>
<path d="M321.2 736.8 L323.9 739.8 L326.5 742.7 L329.2 745.8 L331.7 748.8 L334.3 751.9 L336.8 755.0 L339.2 758.2 L341.7 761.4 L344.1 764.6 L346.4 767.8 L348.8 771.0 L351.1 774.3 L353.3 777.6 L355.6 780.9 L357.8 784.3" fill="none" stroke="#000" stroke-width="2.0" stroke-linejoin="round"/>
<text transform="translate(307.5 723.0) rotate(43.1)" font-size="18.72" text-anchor="middle" y="6.83" style="stroke-width:0.5px">0.5</text>
<path d="M98.0 651.5 L101.8 652.7 L105.5 654.3 L109.2 655.8 L112.9 657.4 L116.5 658.9 L120.2 660.5" fill="none" stroke="#000" stroke-width="2.0" stroke-linejoin="round"/>
<path d="M159.3 675.8 L163.1 677.1 L167.0 678.2 L170.8 679.3 L174.7 680.3 L178.5 681.4 L182.2 682.9 L185.4 685.2 L188.7 687.5 L191.9 689.9 L195.2 692.2 L198.4 694.5 L201.7 696.9 L204.9 699.2 L208.2 701.4 L211.7 703.4 L215.2 705.3 L218.7 707.3 L222.2 709.2 L225.7 711.2 L228.9 713.6 L231.7 716.4 L234.6 719.1 L237.5 721.9 L240.4 724.7 L243.3 727.4 L246.2 730.2 L249.1 733.0 L252.0 735.7 L254.8 738.5 L257.7 741.3 L260.4 744.3 L262.9 747.3 L265.5 750.4 L268.1 753.5 L270.6 756.5 L273.3 759.5 L275.9 762.5 L278.6 765.5 L281.3 768.5 L283.9 771.5" fill="none" stroke="#000" stroke-width="2.0" stroke-linejoin="round"/>
<text transform="translate(141.3 668.4) rotate(21.8)" font-size="18.72" text-anchor="middle" y="6.83" style="stroke-width:0.5px">0.1</text>
</g>
<rect x="100.60" y="482.50" width="581.00" height="288.30" fill="none" stroke="#000" stroke-width="1.35"/>
<path d="M100.60 424.30v4.1" stroke="#000" stroke-width="1.05"/>
<text x="78.70" y="446.80" font-size="18.72">10<tspan dy="-7.9" font-size="13.10">−3</tspan></text>
<path d="M184.68 424.30v2.4" stroke="#000" stroke-width="0.85"/>
<path d="M233.86 424.30v2.4" stroke="#000" stroke-width="0.85"/>
<path d="M268.76 424.30v2.4" stroke="#000" stroke-width="0.85"/>
<path d="M295.82 424.30v2.4" stroke="#000" stroke-width="0.85"/>
<path d="M317.94 424.30v2.4" stroke="#000" stroke-width="0.85"/>
<path d="M336.64 424.30v2.4" stroke="#000" stroke-width="0.85"/>
<path d="M352.83 424.30v2.4" stroke="#000" stroke-width="0.85"/>
<path d="M367.12 424.30v2.4" stroke="#000" stroke-width="0.85"/>
<path d="M379.90 424.30v4.1" stroke="#000" stroke-width="1.05"/>
<text x="358.00" y="446.80" font-size="18.72">10<tspan dy="-7.9" font-size="13.10">−2</tspan></text>
<path d="M463.98 424.30v2.4" stroke="#000" stroke-width="0.85"/>
<path d="M513.16 424.30v2.4" stroke="#000" stroke-width="0.85"/>
<path d="M548.06 424.30v2.4" stroke="#000" stroke-width="0.85"/>
<path d="M575.12 424.30v2.4" stroke="#000" stroke-width="0.85"/>
<path d="M597.24 424.30v2.4" stroke="#000" stroke-width="0.85"/>
<path d="M615.94 424.30v2.4" stroke="#000" stroke-width="0.85"/>
<path d="M632.13 424.30v2.4" stroke="#000" stroke-width="0.85"/>
<path d="M646.42 424.30v2.4" stroke="#000" stroke-width="0.85"/>
<path d="M659.20 424.30v4.1" stroke="#000" stroke-width="1.05"/>
<text x="637.30" y="446.80" font-size="18.72">10<tspan dy="-7.9" font-size="13.10">−1</tspan></text>
<path d="M100.60 136.00h-4.1" stroke="#000" stroke-width="1.05"/>
<text x="92.3" y="143.00" font-size="18.72" text-anchor="end">0.010</text>
<path d="M100.60 208.07h-4.1" stroke="#000" stroke-width="1.05"/>
<text x="92.3" y="215.07" font-size="18.72" text-anchor="end">0.005</text>
<path d="M100.60 280.15h-4.1" stroke="#000" stroke-width="1.05"/>
<text x="92.3" y="287.15" font-size="18.72" text-anchor="end">0.000</text>
<path d="M100.60 352.23h-4.1" stroke="#000" stroke-width="1.05"/>
<text x="92.3" y="359.23" font-size="18.72" text-anchor="end">−0.005</text>
<path d="M100.60 424.30h-4.1" stroke="#000" stroke-width="1.05"/>
<text x="92.3" y="431.30" font-size="18.72" text-anchor="end">−0.010</text>
<text x="391.10" y="470.10" font-size="18.72" text-anchor="middle"><tspan font-style="italic">T</tspan>/<tspan font-style="italic">m</tspan></text>
<text transform="translate(14 280.95) rotate(-90)" font-size="18.72" text-anchor="middle">Δ<tspan font-style="italic">μ</tspan>/<tspan font-style="italic">m</tspan></text>
<text x="672.1" y="157.50" font-size="22.5" text-anchor="end">D=3</text>
<path d="M100.60 770.80v4.1" stroke="#000" stroke-width="1.05"/>
<text x="78.70" y="793.30" font-size="18.72">10<tspan dy="-7.9" font-size="13.10">−3</tspan></text>
<path d="M175.26 770.80v2.4" stroke="#000" stroke-width="0.85"/>
<path d="M218.93 770.80v2.4" stroke="#000" stroke-width="0.85"/>
<path d="M249.91 770.80v2.4" stroke="#000" stroke-width="0.85"/>
<path d="M273.94 770.80v2.4" stroke="#000" stroke-width="0.85"/>
<path d="M293.58 770.80v2.4" stroke="#000" stroke-width="0.85"/>
<path d="M310.18 770.80v2.4" stroke="#000" stroke-width="0.85"/>
<path d="M324.57 770.80v2.4" stroke="#000" stroke-width="0.85"/>
<path d="M337.25 770.80v2.4" stroke="#000" stroke-width="0.85"/>
<path d="M348.60 770.80v4.1" stroke="#000" stroke-width="1.05"/>
<text x="326.70" y="793.30" font-size="18.72">10<tspan dy="-7.9" font-size="13.10">−2</tspan></text>
<path d="M423.26 770.80v2.4" stroke="#000" stroke-width="0.85"/>
<path d="M466.93 770.80v2.4" stroke="#000" stroke-width="0.85"/>
<path d="M497.91 770.80v2.4" stroke="#000" stroke-width="0.85"/>
<path d="M521.94 770.80v2.4" stroke="#000" stroke-width="0.85"/>
<path d="M541.58 770.80v2.4" stroke="#000" stroke-width="0.85"/>
<path d="M558.18 770.80v2.4" stroke="#000" stroke-width="0.85"/>
<path d="M572.57 770.80v2.4" stroke="#000" stroke-width="0.85"/>
<path d="M585.25 770.80v2.4" stroke="#000" stroke-width="0.85"/>
<path d="M596.60 770.80v4.1" stroke="#000" stroke-width="1.05"/>
<text x="574.70" y="793.30" font-size="18.72">10<tspan dy="-7.9" font-size="13.10">−1</tspan></text>
<path d="M671.26 770.80v2.4" stroke="#000" stroke-width="0.85"/>
<path d="M100.60 482.50h-4.1" stroke="#000" stroke-width="1.05"/>
<text x="92.3" y="489.50" font-size="18.72" text-anchor="end">0.02</text>
<path d="M100.60 554.58h-4.1" stroke="#000" stroke-width="1.05"/>
<text x="92.3" y="561.58" font-size="18.72" text-anchor="end">0.01</text>
<path d="M100.60 626.65h-4.1" stroke="#000" stroke-width="1.05"/>
<text x="92.3" y="633.65" font-size="18.72" text-anchor="end">0.00</text>
<path d="M100.60 698.72h-4.1" stroke="#000" stroke-width="1.05"/>
<text x="92.3" y="705.72" font-size="18.72" text-anchor="end">−0.01</text>
<path d="M100.60 770.80h-4.1" stroke="#000" stroke-width="1.05"/>
<text x="92.3" y="777.80" font-size="18.72" text-anchor="end">−0.02</text>
<text x="391.10" y="816.60" font-size="18.72" text-anchor="middle"><tspan font-style="italic">T</tspan>/<tspan font-style="italic">m</tspan></text>
<text transform="translate(14 627.45) rotate(-90)" font-size="18.72" text-anchor="middle">Δ<tspan font-style="italic">μ</tspan>/<tspan font-style="italic">m</tspan></text>
<text x="672.1" y="504.00" font-size="22.5" text-anchor="end">D=2</text>
<rect x="4.5" y="0.4" width="680" height="115.8" rx="3.5" fill="#fff" stroke="#d4d4d4" stroke-width="1.1"/>
<rect x="12.2" y="9.2" width="37.7" height="13.4" fill="#1f77b4"/>
<text x="65.3" y="22.50" font-size="18.72">Sommerfeld (&lt;20% error)</text>
<rect x="12.2" y="36.7" width="37.7" height="13.4" fill="#0000ff"/>
<text x="65.3" y="50.00" font-size="18.72">Sommerfeld (&lt;10% error)</text>
<rect x="12.2" y="64.1" width="37.7" height="13.4" fill="#2ca02c"/>
<rect x="12.2" y="64.1" width="37.7" height="13.4" fill="url(#dots)"/>
<text x="65.3" y="77.40" font-size="18.72">Theorem 5 (&lt;20% error)</text>
<path d="M12.2 97.9h38" stroke="#000" stroke-width="1.75"/>
<text x="65.3" y="104.70" font-size="18.72">Particles per de Broglie volume</text>
<rect x="393.8" y="9.2" width="37.7" height="13.4" fill="#006400"/>
<rect x="393.8" y="9.2" width="37.7" height="13.4" fill="url(#dots)"/>
<text x="446.9" y="22.50" font-size="18.72">Theorem 5 (&lt;10% error)</text>
<rect x="393.8" y="36.7" width="37.7" height="13.4" fill="#9467bd"/>
<rect x="393.8" y="36.7" width="37.7" height="13.4" fill="url(#hl)"/>
<text x="446.9" y="50.00" font-size="18.72">Boltzmann (&lt;20% error)</text>
<rect x="393.8" y="64.1" width="37.7" height="13.4" fill="#800080"/>
<rect x="393.8" y="64.1" width="37.7" height="13.4" fill="url(#hl)"/>
<text x="446.9" y="77.40" font-size="18.72">Boltzmann (&lt;10% error)</text>
</svg></body></html>
